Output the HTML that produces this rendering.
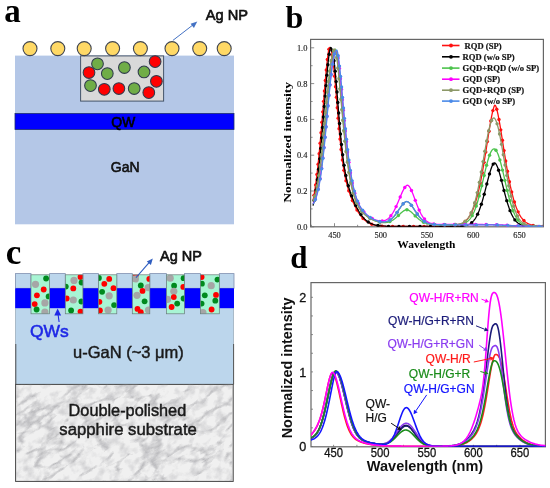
<!DOCTYPE html>
<html><head><meta charset="utf-8"><title>Figure</title>
<style>html,body{margin:0;padding:0;background:#fff;}svg{display:block;}</style></head>
<body>
<svg width="550" height="488" viewBox="0 0 550 488">
<rect width="550" height="488" fill="#fff"/>
<text x="4.3" y="21.5" font-family="'Liberation Serif', serif" font-weight="bold" font-size="33">a</text>
<rect x="15" y="55.6" width="219" height="168.7" fill="#B4C7E7"/>
<rect x="80.6" y="55.9" width="83" height="45.2" fill="#D9D9D9" stroke="#44546A" stroke-width="1"/>
<rect x="15" y="113.5" width="219" height="16" fill="#0000FF" stroke="#1F2F6F" stroke-width="0.8"/>
<circle cx="30" cy="48.6" r="7.0" fill="#FFD966" stroke="#404550" stroke-width="1.1"/>
<circle cx="57.8" cy="48.6" r="7.0" fill="#FFD966" stroke="#404550" stroke-width="1.1"/>
<circle cx="84.2" cy="48.6" r="7.0" fill="#FFD966" stroke="#404550" stroke-width="1.1"/>
<circle cx="112.6" cy="48.6" r="7.0" fill="#FFD966" stroke="#404550" stroke-width="1.1"/>
<circle cx="140.4" cy="48.6" r="7.0" fill="#FFD966" stroke="#404550" stroke-width="1.1"/>
<circle cx="172.0" cy="48.6" r="7.0" fill="#FFD966" stroke="#404550" stroke-width="1.1"/>
<circle cx="199.7" cy="48.6" r="7.0" fill="#FFD966" stroke="#404550" stroke-width="1.1"/>
<circle cx="224.2" cy="48.6" r="7.0" fill="#FFD966" stroke="#404550" stroke-width="1.1"/>
<circle cx="97.5" cy="63.8" r="5.85" fill="#70AD47" stroke="#2F3B4C" stroke-width="1.05"/>
<circle cx="89" cy="72.5" r="5.85" fill="#FF0000" stroke="#2F3B4C" stroke-width="1.05"/>
<circle cx="107.3" cy="73.6" r="5.85" fill="#70AD47" stroke="#2F3B4C" stroke-width="1.05"/>
<circle cx="124.4" cy="67.5" r="5.85" fill="#70AD47" stroke="#2F3B4C" stroke-width="1.05"/>
<circle cx="144" cy="71.9" r="5.85" fill="#70AD47" stroke="#2F3B4C" stroke-width="1.05"/>
<circle cx="155.1" cy="61.6" r="5.85" fill="#FF0000" stroke="#2F3B4C" stroke-width="1.05"/>
<circle cx="156.4" cy="81.3" r="5.85" fill="#FF0000" stroke="#2F3B4C" stroke-width="1.05"/>
<circle cx="90.5" cy="85.6" r="5.85" fill="#70AD47" stroke="#2F3B4C" stroke-width="1.05"/>
<circle cx="104.3" cy="89.3" r="5.85" fill="#FF0000" stroke="#2F3B4C" stroke-width="1.05"/>
<circle cx="118.9" cy="88.5" r="5.85" fill="#FF0000" stroke="#2F3B4C" stroke-width="1.05"/>
<circle cx="134.2" cy="88.5" r="5.85" fill="#70AD47" stroke="#2F3B4C" stroke-width="1.05"/>
<circle cx="148.8" cy="92.6" r="5.85" fill="#FF0000" stroke="#2F3B4C" stroke-width="1.05"/>
<line x1="172.9" y1="40.4" x2="194" y2="24.1" stroke="#4472C4" stroke-width="1"/>
<polygon points="197.3,21.5 190.6,23.7 193.9,27.9" fill="#4472C4"/>
<text x="205.8" y="20.2" font-family="'Liberation Sans', sans-serif" font-size="14.9" fill="#111" stroke="#111" stroke-width="0.65" textLength="42.3" lengthAdjust="spacingAndGlyphs">Ag NP</text>
<text x="111.2" y="126.8" font-family="'Liberation Sans', sans-serif" font-size="14" fill="#000" stroke="#000" stroke-width="0.6">QW</text>
<text x="110.8" y="172.2" font-family="'Liberation Sans', sans-serif" font-size="14" fill="#111" stroke="#111" stroke-width="0.6">GaN</text>
<text x="285.6" y="28.4" font-family="'Liberation Serif', serif" font-weight="bold" font-size="32">b</text>
<rect x="310.6" y="39.4" width="232.79999999999995" height="187.4" fill="none" stroke="#666" stroke-width="1.2"/>
<line x1="310.6" y1="226.8" x2="314.2" y2="226.8" stroke="#707070" stroke-width="0.8"/>
<text x="307.4" y="229.7" text-anchor="end" font-family="'Liberation Serif', serif" font-size="8.4" fill="#222" stroke="#222" stroke-width="0.15">0.0</text>
<line x1="310.6" y1="208.9" x2="312.6" y2="208.9" stroke="#707070" stroke-width="0.8"/>
<line x1="310.6" y1="191" x2="314.2" y2="191" stroke="#707070" stroke-width="0.8"/>
<text x="307.4" y="193.9" text-anchor="end" font-family="'Liberation Serif', serif" font-size="8.4" fill="#222" stroke="#222" stroke-width="0.15">0.2</text>
<line x1="310.6" y1="173.1" x2="312.6" y2="173.1" stroke="#707070" stroke-width="0.8"/>
<line x1="310.6" y1="155.2" x2="314.2" y2="155.2" stroke="#707070" stroke-width="0.8"/>
<text x="307.4" y="158.1" text-anchor="end" font-family="'Liberation Serif', serif" font-size="8.4" fill="#222" stroke="#222" stroke-width="0.15">0.4</text>
<line x1="310.6" y1="137.3" x2="312.6" y2="137.3" stroke="#707070" stroke-width="0.8"/>
<line x1="310.6" y1="119.4" x2="314.2" y2="119.4" stroke="#707070" stroke-width="0.8"/>
<text x="307.4" y="122.3" text-anchor="end" font-family="'Liberation Serif', serif" font-size="8.4" fill="#222" stroke="#222" stroke-width="0.15">0.6</text>
<line x1="310.6" y1="101.5" x2="312.6" y2="101.5" stroke="#707070" stroke-width="0.8"/>
<line x1="310.6" y1="83.6" x2="314.2" y2="83.6" stroke="#707070" stroke-width="0.8"/>
<text x="307.4" y="86.5" text-anchor="end" font-family="'Liberation Serif', serif" font-size="8.4" fill="#222" stroke="#222" stroke-width="0.15">0.8</text>
<line x1="310.6" y1="65.7" x2="312.6" y2="65.7" stroke="#707070" stroke-width="0.8"/>
<line x1="310.6" y1="47.8" x2="314.2" y2="47.8" stroke="#707070" stroke-width="0.8"/>
<text x="307.4" y="50.7" text-anchor="end" font-family="'Liberation Serif', serif" font-size="8.4" fill="#222" stroke="#222" stroke-width="0.15">1.0</text>
<line x1="311.38" y1="226.8" x2="311.38" y2="224.8" stroke="#707070" stroke-width="0.8"/>
<line x1="334.5" y1="226.8" x2="334.5" y2="223.2" stroke="#707070" stroke-width="0.8"/>
<text x="334.5" y="237.6" text-anchor="middle" font-family="'Liberation Serif', serif" font-size="8.4" fill="#222" stroke="#222" stroke-width="0.15">450</text>
<line x1="357.62" y1="226.8" x2="357.62" y2="224.8" stroke="#707070" stroke-width="0.8"/>
<line x1="380.75" y1="226.8" x2="380.75" y2="223.2" stroke="#707070" stroke-width="0.8"/>
<text x="380.75" y="237.6" text-anchor="middle" font-family="'Liberation Serif', serif" font-size="8.4" fill="#222" stroke="#222" stroke-width="0.15">500</text>
<line x1="403.88" y1="226.8" x2="403.88" y2="224.8" stroke="#707070" stroke-width="0.8"/>
<line x1="427" y1="226.8" x2="427" y2="223.2" stroke="#707070" stroke-width="0.8"/>
<text x="427" y="237.6" text-anchor="middle" font-family="'Liberation Serif', serif" font-size="8.4" fill="#222" stroke="#222" stroke-width="0.15">550</text>
<line x1="450.12" y1="226.8" x2="450.12" y2="224.8" stroke="#707070" stroke-width="0.8"/>
<line x1="473.25" y1="226.8" x2="473.25" y2="223.2" stroke="#707070" stroke-width="0.8"/>
<text x="473.25" y="237.6" text-anchor="middle" font-family="'Liberation Serif', serif" font-size="8.4" fill="#222" stroke="#222" stroke-width="0.15">600</text>
<line x1="496.38" y1="226.8" x2="496.38" y2="224.8" stroke="#707070" stroke-width="0.8"/>
<line x1="519.5" y1="226.8" x2="519.5" y2="223.2" stroke="#707070" stroke-width="0.8"/>
<text x="519.5" y="237.6" text-anchor="middle" font-family="'Liberation Serif', serif" font-size="8.4" fill="#222" stroke="#222" stroke-width="0.15">650</text>
<line x1="542.62" y1="226.8" x2="542.62" y2="224.8" stroke="#707070" stroke-width="0.8"/>
<text transform="translate(426.4,247.6) scale(1,0.9)" text-anchor="middle" font-family="'Liberation Serif', serif" font-weight="bold" font-size="11.5">Wavelength</text>
<text transform="translate(290.8,142.3) rotate(-90) scale(1.18,0.86)" text-anchor="middle" font-family="'Liberation Serif', serif" font-weight="bold" font-size="11.5">Normalized intensity</text>
<clipPath id="cb"><rect x="310.6" y="39.4" width="232.79999999999995" height="187.4"/></clipPath>
<g clip-path="url(#cb)">
<path d="M313.04,200.52 L313.5,198.11 L313.97,195.53 L314.43,192.78 L314.89,189.84 L315.35,186.71 L315.81,183.39 L316.28,179.88 L316.74,176.17 L317.2,172.25 L317.67,168.15 L318.13,163.84 L318.59,159.35 L319.05,154.66 L319.51,149.8 L319.98,144.77 L320.44,139.58 L320.9,134.24 L321.37,128.78 L321.83,123.22 L322.29,117.57 L322.75,111.86 L323.22,106.11 L323.68,100.37 L324.14,94.67 L324.6,89.04 L325.06,83.52 L325.53,78.16 L325.99,73.01 L326.45,68.12 L326.92,63.55 L327.38,59.36 L327.84,55.62 L328.3,52.42 L328.76,49.85 L329.23,48.08 L329.69,47.45 L330.15,47.74 L330.62,48.51 L331.08,49.81 L331.54,51.64 L332,54.01 L332.47,56.89 L332.93,60.26 L333.39,64.1 L333.85,68.35 L334.31,72.98 L334.78,77.92 L335.24,83.12 L335.7,88.53 L336.17,94.09 L336.63,99.73 L337.09,105.4 L337.55,111.05 L338.01,116.63 L338.48,122.1 L338.94,127.42 L339.4,132.55 L339.87,137.47 L340.33,142.16 L340.79,146.61 L341.25,150.81 L341.72,154.75 L342.18,158.45 L342.64,161.9 L343.1,165.11 L343.56,168.09 L344.03,170.87 L344.49,173.45 L344.95,175.85 L345.42,178.08 L345.88,180.17 L346.34,182.12 L346.8,183.96 L347.26,185.68 L347.73,187.32 L348.19,188.88 L348.65,190.36 L349.12,191.78 L349.58,193.14 L350.04,194.45 L350.5,195.71 L350.97,196.94 L351.43,198.12 L351.89,199.28 L352.35,200.39 L352.81,201.48 L353.28,202.54 L353.74,203.57 L354.2,204.57 L354.67,205.54 L355.13,206.48 L355.59,207.39 L356.05,208.28 L356.51,209.14 L356.98,209.97 L357.44,210.78 L357.9,211.56 L358.37,212.31 L358.83,213.03 L359.29,213.73 L359.75,214.4 L360.22,215.05 L360.68,215.67 L361.14,216.26 L361.6,216.83 L362.06,217.38 L362.53,217.9 L362.99,218.4 L363.45,218.88 L363.92,219.33 L364.38,219.76 L364.84,220.17 L365.3,220.56 L365.76,220.93 L366.23,221.29 L366.69,221.62 L367.15,221.94 L367.62,222.23 L368.08,222.52 L368.54,222.78 L369,223.03 L369.47,223.27 L369.93,223.49 L370.39,223.7 L370.85,223.9 L371.31,224.08 L371.78,224.26 L372.24,224.42 L372.7,224.57 L373.17,224.71 L373.63,224.84 L374.09,224.97 L374.55,225.08 L375.01,225.19 L375.48,225.29 L375.94,225.38 L376.4,225.47 L376.87,225.55 L377.33,225.62 L377.79,225.69 L378.25,225.75 L378.72,225.81 L379.18,225.86 L379.64,225.91 L380.1,225.96 L380.56,226 L381.03,226.04 L381.49,226.08 L381.95,226.11 L382.42,226.14 L382.88,226.17 L383.34,226.19 L383.8,226.22 L384.26,226.24 L384.73,226.26 L385.19,226.27 L385.65,226.29 L386.12,226.31 L386.58,226.32 L387.04,226.33 L387.5,226.34 L387.97,226.35 L388.43,226.36 L388.89,226.37 L389.35,226.38 L389.81,226.38 L390.28,226.39 L390.74,226.4 L391.2,226.4 L391.67,226.4 L392.13,226.41 L392.59,226.41 L393.05,226.42 L393.51,226.42 L393.98,226.42 L394.44,226.42 L394.9,226.43 L395.36,226.43 L395.83,226.43 L396.29,226.43 L396.75,226.43 L397.21,226.43 L397.68,226.43 L398.14,226.43 L398.6,226.44 L399.06,226.44 L399.53,226.44 L399.99,226.44 L400.45,226.44 L400.91,226.44 L401.38,226.44 L401.84,226.44 L402.3,226.44 L402.76,226.44 L403.23,226.44 L403.69,226.44 L404.15,226.44 L404.61,226.44 L405.08,226.44 L405.54,226.44 L406,226.44 L406.46,226.44 L406.93,226.44 L407.39,226.44 L407.85,226.44 L408.31,226.44 L408.78,226.44 L409.24,226.44 L409.7,226.44 L410.16,226.44 L410.63,226.44 L411.09,226.44 L411.55,226.44 L412.01,226.44 L412.48,226.44 L412.94,226.44 L413.4,226.44 L413.86,226.44 L414.33,226.44 L414.79,226.44 L415.25,226.44 L415.71,226.44 L416.18,226.44 L416.64,226.44 L417.1,226.44 L417.56,226.44 L418.03,226.44 L418.49,226.44 L418.95,226.44 L419.41,226.44 L419.88,226.44 L420.34,226.44 L420.8,226.44 L421.26,226.44 L421.73,226.44 L422.19,226.44 L422.65,226.44 L423.11,226.44 L423.58,226.44 L424.04,226.44 L424.5,226.44 L424.96,226.44 L425.43,226.44 L425.89,226.44 L426.35,226.44 L426.81,226.44 L427.28,226.44 L427.74,226.44 L428.2,226.44 L428.66,226.44 L429.13,226.44 L429.59,226.44 L430.05,226.44 L430.51,226.44 L430.98,226.44 L431.44,226.44 L431.9,226.44 L432.36,226.44 L432.83,226.44 L433.29,226.44 L433.75,226.44 L434.21,226.44 L434.68,226.44 L435.14,226.43 L435.6,226.43 L436.06,226.43 L436.53,226.43 L436.99,226.43 L437.45,226.43 L437.91,226.43 L438.38,226.43 L438.84,226.42 L439.3,226.42 L439.76,226.42 L440.23,226.42 L440.69,226.41 L441.15,226.41 L441.61,226.4 L442.08,226.4 L442.54,226.4 L443,226.39 L443.46,226.38 L443.93,226.38 L444.39,226.37 L444.85,226.36 L445.31,226.35 L445.78,226.34 L446.24,226.33 L446.7,226.32 L447.16,226.3 L447.63,226.29 L448.09,226.27 L448.55,226.25 L449.01,226.23 L449.48,226.21 L449.94,226.19 L450.4,226.16 L450.86,226.13 L451.33,226.1 L451.79,226.06 L452.25,226.02 L452.71,225.98 L453.18,225.93 L453.64,225.88 L454.1,225.82 L454.56,225.76 L455.03,225.69 L455.49,225.62 L455.95,225.54 L456.41,225.45 L456.88,225.36 L457.34,225.25 L457.8,225.14 L458.26,225.02 L458.73,224.88 L459.19,224.74 L459.65,224.58 L460.11,224.41 L460.58,224.23 L461.04,224.03 L461.5,223.82 L461.96,223.59 L462.43,223.34 L462.89,223.07 L463.35,222.78 L463.81,222.47 L464.28,222.14 L464.74,221.78 L465.2,221.39 L465.66,220.98 L466.13,220.54 L466.59,220.07 L467.05,219.56 L467.51,219.02 L467.98,218.44 L468.44,217.83 L468.9,217.17 L469.36,216.47 L469.83,215.73 L470.29,214.95 L470.75,214.11 L471.21,213.22 L471.68,212.28 L472.14,211.29 L472.6,210.24 L473.06,209.14 L473.53,207.97 L473.99,206.74 L474.45,205.44 L474.91,204.08 L475.38,202.66 L475.84,201.16 L476.3,199.59 L476.76,197.95 L477.23,196.24 L477.69,194.46 L478.15,192.59 L478.61,190.66 L479.08,188.65 L479.54,186.56 L480,184.4 L480.46,182.16 L480.93,179.85 L481.39,177.47 L481.85,175.02 L482.31,172.5 L482.78,169.92 L483.24,167.27 L483.7,164.57 L484.16,161.81 L484.63,159.01 L485.09,156.16 L485.55,153.28 L486.01,150.36 L486.48,147.43 L486.94,144.48 L487.4,141.52 L487.86,138.57 L488.33,135.64 L488.79,132.74 L489.25,129.87 L489.71,127.06 L490.18,124.32 L490.64,121.66 L491.1,119.1 L491.56,116.66 L492.03,114.36 L492.49,112.23 L492.95,110.28 L493.41,108.56 L493.88,107.1 L494.34,105.95 L494.8,105.21 L495.26,105.28 L495.73,106.09 L496.19,107.29 L496.65,108.8 L497.11,110.55 L497.58,112.53 L498.04,114.69 L498.5,117.01 L498.96,119.46 L499.43,122.04 L499.89,124.71 L500.35,127.47 L500.81,130.29 L501.28,133.16 L501.74,136.07 L502.2,139 L502.66,141.96 L503.13,144.91 L503.59,147.86 L504.05,150.79 L504.51,153.7 L504.98,156.58 L505.44,159.42 L505.9,162.22 L506.36,164.97 L506.83,167.66 L507.29,170.3 L507.75,172.87 L508.21,175.38 L508.68,177.82 L509.14,180.19 L509.6,182.49 L510.06,184.72 L510.53,186.87 L510.99,188.95 L511.45,190.95 L511.91,192.87 L512.38,194.72 L512.84,196.5 L513.3,198.2 L513.76,199.83 L514.23,201.38 L514.69,202.87 L515.15,204.29 L515.62,205.64 L516.08,206.92 L516.54,208.14 L517,209.3 L517.46,210.4 L517.93,211.44 L518.39,212.43 L518.85,213.36 L519.31,214.23 L519.78,215.06 L520.24,215.84 L520.7,216.58 L521.16,217.27 L521.63,217.92 L522.09,218.53 L522.55,219.1 L523.01,219.64 L523.48,220.14 L523.94,220.61 L524.4,221.04 L524.87,221.45 L525.33,221.83 L525.79,222.19 L526.25,222.52 L526.71,222.83 L527.18,223.11 L527.64,223.38 L528.1,223.62 L528.56,223.85 L529.03,224.06 L529.49,224.26 L529.95,224.44 L530.41,224.61 L530.88,224.76 L531.34,224.9 L531.8,225.04 L532.26,225.16 L532.73,225.27 L533.19,225.37 L533.65,225.46 L534.12,225.55 L534.58,225.63 L535.04,225.7 L535.5,225.77 L535.96,225.83 L536.43,225.89 L536.89,225.94 L537.35,225.98 L537.81,226.03 L538.28,226.07 L538.74,226.1 L539.2,226.13 L539.66,226.16 L540.13,226.19 L540.59,226.21 L541.05,226.24 L541.51,226.26 L541.98,226.27 L542.44,226.29 L542.9,226.31 L543.37,226.32" fill="none" stroke="#FF1010" stroke-width="1.3" stroke-linejoin="round"/>
<g fill="#FF1010"><circle cx="313.99" cy="195.36" r="1.7"/><circle cx="315.59" cy="184.98" r="1.7"/><circle cx="316.93" cy="174.56" r="1.7"/><circle cx="318.1" cy="164.13" r="1.7"/><circle cx="319.15" cy="153.68" r="1.7"/><circle cx="320.11" cy="143.23" r="1.7"/><circle cx="321.03" cy="132.77" r="1.7"/><circle cx="321.9" cy="122.3" r="1.7"/><circle cx="322.75" cy="111.84" r="1.7"/><circle cx="323.6" cy="101.37" r="1.7"/><circle cx="324.45" cy="90.91" r="1.7"/><circle cx="325.33" cy="80.44" r="1.7"/><circle cx="326.28" cy="69.99" r="1.7"/><circle cx="327.36" cy="59.54" r="1.7"/><circle cx="328.94" cy="49.17" r="1.7"/><circle cx="332.23" cy="55.45" r="1.7"/><circle cx="333.58" cy="65.87" r="1.7"/><circle cx="334.63" cy="76.31" r="1.7"/><circle cx="335.55" cy="86.77" r="1.7"/><circle cx="336.42" cy="97.24" r="1.7"/><circle cx="337.28" cy="107.7" r="1.7"/><circle cx="338.14" cy="118.17" r="1.7"/><circle cx="339.05" cy="128.63" r="1.7"/><circle cx="340.02" cy="139.08" r="1.7"/><circle cx="341.11" cy="149.53" r="1.7"/><circle cx="342.38" cy="159.95" r="1.7"/><circle cx="343.94" cy="170.33" r="1.7"/><circle cx="345.99" cy="180.63" r="1.7"/><circle cx="348.78" cy="190.75" r="1.7"/><circle cx="352.43" cy="200.59" r="1.7"/><circle cx="357.01" cy="210.03" r="1.7"/><circle cx="363.12" cy="218.53" r="1.7"/><circle cx="371.8" cy="224.26" r="1.7"/><circle cx="382.1" cy="226.12" r="1.7"/><circle cx="392.6" cy="226.41" r="1.7"/><circle cx="403.1" cy="226.44" r="1.7"/><circle cx="413.6" cy="226.44" r="1.7"/><circle cx="424.1" cy="226.44" r="1.7"/><circle cx="434.6" cy="226.44" r="1.7"/><circle cx="445.1" cy="226.36" r="1.7"/><circle cx="455.56" cy="225.61" r="1.7"/><circle cx="465.08" cy="221.5" r="1.7"/><circle cx="471.27" cy="213.11" r="1.7"/><circle cx="475.15" cy="203.36" r="1.7"/><circle cx="477.99" cy="193.25" r="1.7"/><circle cx="480.29" cy="183.01" r="1.7"/><circle cx="482.28" cy="172.7" r="1.7"/><circle cx="484.07" cy="162.35" r="1.7"/><circle cx="485.76" cy="151.99" r="1.7"/><circle cx="487.39" cy="141.62" r="1.7"/><circle cx="489.03" cy="131.25" r="1.7"/><circle cx="490.78" cy="120.89" r="1.7"/><circle cx="492.88" cy="110.61" r="1.7"/><circle cx="496.77" cy="109.26" r="1.7"/><circle cx="498.97" cy="119.52" r="1.7"/><circle cx="500.75" cy="129.87" r="1.7"/><circle cx="502.4" cy="140.24" r="1.7"/><circle cx="504.02" cy="150.61" r="1.7"/><circle cx="505.7" cy="160.98" r="1.7"/><circle cx="507.47" cy="171.32" r="1.7"/><circle cx="509.43" cy="181.64" r="1.7"/><circle cx="511.68" cy="191.9" r="1.7"/><circle cx="514.43" cy="202.03" r="1.7"/><circle cx="518.12" cy="211.85" r="1.7"/><circle cx="523.89" cy="220.56" r="1.7"/><circle cx="533.07" cy="225.34" r="1.7"/></g>
<path d="M313.04,205.59 L313.5,203.56 L313.97,201.38 L314.43,199.04 L314.89,196.53 L315.35,193.84 L315.81,190.97 L316.28,187.92 L316.74,184.67 L317.2,181.23 L317.67,177.59 L318.13,173.76 L318.59,169.72 L319.05,165.49 L319.51,161.07 L319.98,156.46 L320.44,151.66 L320.9,146.69 L321.37,141.56 L321.83,136.28 L322.29,130.86 L322.75,125.34 L323.22,119.71 L323.68,114.02 L324.14,108.29 L324.6,102.54 L325.06,96.82 L325.53,91.16 L325.99,85.59 L326.45,80.17 L326.92,74.93 L327.38,69.94 L327.84,65.24 L328.3,60.89 L328.76,56.98 L329.23,53.56 L329.69,50.74 L330.15,48.64 L330.62,47.5 L331.08,47.58 L331.54,48.19 L332,49.34 L332.47,51.04 L332.93,53.3 L333.39,56.1 L333.85,59.43 L334.31,63.24 L334.78,67.49 L335.24,72.15 L335.7,77.14 L336.17,82.41 L336.63,87.9 L337.09,93.54 L337.55,99.28 L338.01,105.05 L338.48,110.8 L338.94,116.47 L339.4,122.02 L339.87,127.41 L340.33,132.6 L340.79,137.57 L341.25,142.29 L341.72,146.76 L342.18,150.97 L342.64,154.91 L343.1,158.59 L343.56,162.02 L344.03,165.2 L344.49,168.15 L344.95,170.88 L345.42,173.42 L345.88,175.78 L346.34,177.97 L346.8,180.02 L347.26,181.93 L347.73,183.73 L348.19,185.43 L348.65,187.04 L349.12,188.56 L349.58,190.03 L350.04,191.43 L350.5,192.77 L350.97,194.08 L351.43,195.33 L351.89,196.55 L352.35,197.74 L352.81,198.89 L353.28,200.01 L353.74,201.1 L354.2,202.16 L354.67,203.2 L355.13,204.2 L355.59,205.18 L356.05,206.13 L356.51,207.06 L356.98,207.95 L357.44,208.82 L357.9,209.66 L358.37,210.48 L358.83,211.27 L359.29,212.03 L359.75,212.76 L360.22,213.47 L360.68,214.15 L361.14,214.81 L361.6,215.44 L362.06,216.04 L362.53,216.62 L362.99,217.18 L363.45,217.71 L363.92,218.21 L364.38,218.7 L364.84,219.16 L365.3,219.6 L365.76,220.02 L366.23,220.42 L366.69,220.8 L367.15,221.16 L367.62,221.5 L368.08,221.82 L368.54,222.12 L369,222.41 L369.47,222.68 L369.93,222.94 L370.39,223.18 L370.85,223.41 L371.31,223.62 L371.78,223.83 L372.24,224.01 L372.7,224.19 L373.17,224.36 L373.63,224.51 L374.09,224.66 L374.55,224.79 L375.01,224.92 L375.48,225.04 L375.94,225.15 L376.4,225.25 L376.87,225.35 L377.33,225.43 L377.79,225.52 L378.25,225.59 L378.72,225.66 L379.18,225.73 L379.64,225.79 L380.1,225.84 L380.56,225.9 L381.03,225.94 L381.49,225.99 L381.95,226.03 L382.42,226.06 L382.88,226.1 L383.34,226.13 L383.8,226.16 L384.26,226.18 L384.73,226.21 L385.19,226.23 L385.65,226.25 L386.12,226.27 L386.58,226.29 L387.04,226.3 L387.5,226.31 L387.97,226.33 L388.43,226.34 L388.89,226.35 L389.35,226.36 L389.81,226.37 L390.28,226.37 L390.74,226.38 L391.2,226.39 L391.67,226.39 L392.13,226.4 L392.59,226.4 L393.05,226.41 L393.51,226.41 L393.98,226.41 L394.44,226.42 L394.9,226.42 L395.36,226.42 L395.83,226.42 L396.29,226.43 L396.75,226.43 L397.21,226.43 L397.68,226.43 L398.14,226.43 L398.6,226.43 L399.06,226.43 L399.53,226.44 L399.99,226.44 L400.45,226.44 L400.91,226.44 L401.38,226.44 L401.84,226.44 L402.3,226.44 L402.76,226.44 L403.23,226.44 L403.69,226.44 L404.15,226.44 L404.61,226.44 L405.08,226.44 L405.54,226.44 L406,226.44 L406.46,226.44 L406.93,226.44 L407.39,226.44 L407.85,226.44 L408.31,226.44 L408.78,226.44 L409.24,226.44 L409.7,226.44 L410.16,226.44 L410.63,226.44 L411.09,226.44 L411.55,226.44 L412.01,226.44 L412.48,226.44 L412.94,226.44 L413.4,226.44 L413.86,226.44 L414.33,226.44 L414.79,226.44 L415.25,226.44 L415.71,226.44 L416.18,226.44 L416.64,226.44 L417.1,226.44 L417.56,226.44 L418.03,226.44 L418.49,226.44 L418.95,226.44 L419.41,226.44 L419.88,226.44 L420.34,226.44 L420.8,226.44 L421.26,226.44 L421.73,226.44 L422.19,226.44 L422.65,226.44 L423.11,226.44 L423.58,226.44 L424.04,226.44 L424.5,226.44 L424.96,226.44 L425.43,226.44 L425.89,226.44 L426.35,226.44 L426.81,226.44 L427.28,226.44 L427.74,226.44 L428.2,226.44 L428.66,226.44 L429.13,226.44 L429.59,226.44 L430.05,226.44 L430.51,226.44 L430.98,226.44 L431.44,226.44 L431.9,226.44 L432.36,226.44 L432.83,226.44 L433.29,226.44 L433.75,226.44 L434.21,226.44 L434.68,226.44 L435.14,226.44 L435.6,226.44 L436.06,226.44 L436.53,226.44 L436.99,226.44 L437.45,226.44 L437.91,226.44 L438.38,226.44 L438.84,226.44 L439.3,226.44 L439.76,226.44 L440.23,226.44 L440.69,226.44 L441.15,226.44 L441.61,226.44 L442.08,226.44 L442.54,226.44 L443,226.44 L443.46,226.44 L443.93,226.44 L444.39,226.44 L444.85,226.44 L445.31,226.44 L445.78,226.44 L446.24,226.44 L446.7,226.44 L447.16,226.44 L447.63,226.44 L448.09,226.44 L448.55,226.44 L449.01,226.44 L449.48,226.44 L449.94,226.44 L450.4,226.44 L450.86,226.43 L451.33,226.43 L451.79,226.43 L452.25,226.43 L452.71,226.43 L453.18,226.42 L453.64,226.42 L454.1,226.42 L454.56,226.41 L455.03,226.41 L455.49,226.4 L455.95,226.4 L456.41,226.39 L456.88,226.38 L457.34,226.37 L457.8,226.36 L458.26,226.34 L458.73,226.33 L459.19,226.31 L459.65,226.29 L460.11,226.27 L460.58,226.24 L461.04,226.21 L461.5,226.18 L461.96,226.14 L462.43,226.09 L462.89,226.04 L463.35,225.99 L463.81,225.92 L464.28,225.85 L464.74,225.77 L465.2,225.68 L465.66,225.58 L466.13,225.46 L466.59,225.34 L467.05,225.2 L467.51,225.04 L467.98,224.87 L468.44,224.68 L468.9,224.47 L469.36,224.23 L469.83,223.98 L470.29,223.69 L470.75,223.39 L471.21,223.05 L471.68,222.68 L472.14,222.27 L472.6,221.83 L473.06,221.36 L473.53,220.84 L473.99,220.28 L474.45,219.68 L474.91,219.03 L475.38,218.33 L475.84,217.58 L476.3,216.78 L476.76,215.93 L477.23,215.01 L477.69,214.05 L478.15,213.02 L478.61,211.93 L479.08,210.79 L479.54,209.58 L480,208.31 L480.46,206.99 L480.93,205.6 L481.39,204.16 L481.85,202.66 L482.31,201.11 L482.78,199.5 L483.24,197.85 L483.7,196.16 L484.16,194.42 L484.63,192.66 L485.09,190.86 L485.55,189.05 L486.01,187.22 L486.48,185.38 L486.94,183.54 L487.4,181.72 L487.86,179.91 L488.33,178.14 L488.79,176.4 L489.25,174.71 L489.71,173.09 L490.18,171.54 L490.64,170.07 L491.1,168.7 L491.56,167.44 L492.03,166.3 L492.49,165.3 L492.95,164.45 L493.41,163.76 L493.88,163.25 L494.34,162.95 L494.8,162.93 L495.26,163.2 L495.73,163.69 L496.19,164.35 L496.65,165.19 L497.11,166.17 L497.58,167.29 L498.04,168.54 L498.5,169.9 L498.96,171.35 L499.43,172.89 L499.89,174.51 L500.35,176.19 L500.81,177.92 L501.28,179.69 L501.74,181.49 L502.2,183.32 L502.66,185.15 L503.13,186.99 L503.59,188.82 L504.05,190.64 L504.51,192.44 L504.98,194.21 L505.44,195.94 L505.9,197.64 L506.36,199.3 L506.83,200.91 L507.29,202.47 L507.75,203.97 L508.21,205.42 L508.68,206.82 L509.14,208.15 L509.6,209.43 L510.06,210.64 L510.53,211.79 L510.99,212.89 L511.45,213.92 L511.91,214.9 L512.38,215.81 L512.84,216.68 L513.3,217.49 L513.76,218.24 L514.23,218.94 L514.69,219.6 L515.15,220.21 L515.62,220.77 L516.08,221.3 L516.54,221.78 L517,222.22 L517.46,222.63 L517.93,223 L518.39,223.34 L518.85,223.66 L519.31,223.94 L519.78,224.2 L520.24,224.44 L520.7,224.65 L521.16,224.85 L521.63,225.02 L522.09,225.18 L522.55,225.32 L523.01,225.45 L523.48,225.56 L523.94,225.67 L524.4,225.76 L524.87,225.84 L525.33,225.91 L525.79,225.98 L526.25,226.04 L526.71,226.09 L527.18,226.13 L527.64,226.17 L528.1,226.21 L528.56,226.24 L529.03,226.26 L529.49,226.29 L529.95,226.31 L530.41,226.33 L530.88,226.34 L531.34,226.36 L531.8,226.37 L532.26,226.38 L532.73,226.39 L533.19,226.4 L533.65,226.4 L534.12,226.41 L534.58,226.41 L535.04,226.42 L535.5,226.42 L535.96,226.42 L536.43,226.43 L536.89,226.43 L537.35,226.43 L537.81,226.43 L538.28,226.43 L538.74,226.44 L539.2,226.44 L539.66,226.44 L540.13,226.44 L540.59,226.44 L541.05,226.44 L541.51,226.44 L541.98,226.44 L542.44,226.44 L542.9,226.44 L543.37,226.44" fill="none" stroke="#000000" stroke-width="1.3" stroke-linejoin="round"/>
<g fill="#000000"><circle cx="314.15" cy="200.46" r="1.7"/><circle cx="315.95" cy="190.11" r="1.7"/><circle cx="317.4" cy="179.71" r="1.7"/><circle cx="318.64" cy="169.29" r="1.7"/><circle cx="319.74" cy="158.85" r="1.7"/><circle cx="320.74" cy="148.39" r="1.7"/><circle cx="321.68" cy="137.94" r="1.7"/><circle cx="322.57" cy="127.47" r="1.7"/><circle cx="323.43" cy="117.01" r="1.7"/><circle cx="324.28" cy="106.54" r="1.7"/><circle cx="325.13" cy="96.08" r="1.7"/><circle cx="325.99" cy="85.61" r="1.7"/><circle cx="326.9" cy="75.15" r="1.7"/><circle cx="327.9" cy="64.7" r="1.7"/><circle cx="329.13" cy="54.27" r="1.7"/><circle cx="332.28" cy="50.36" r="1.7"/><circle cx="334.01" cy="60.71" r="1.7"/><circle cx="335.14" cy="71.15" r="1.7"/><circle cx="336.09" cy="81.61" r="1.7"/><circle cx="336.97" cy="92.07" r="1.7"/><circle cx="337.81" cy="102.54" r="1.7"/><circle cx="338.66" cy="113" r="1.7"/><circle cx="339.53" cy="123.47" r="1.7"/><circle cx="340.45" cy="133.93" r="1.7"/><circle cx="341.47" cy="144.38" r="1.7"/><circle cx="342.63" cy="154.81" r="1.7"/><circle cx="344.03" cy="165.22" r="1.7"/><circle cx="345.84" cy="175.56" r="1.7"/><circle cx="348.29" cy="185.77" r="1.7"/><circle cx="351.58" cy="195.74" r="1.7"/><circle cx="355.69" cy="205.39" r="1.7"/><circle cx="360.91" cy="214.49" r="1.7"/><circle cx="368.24" cy="221.93" r="1.7"/><circle cx="378.01" cy="225.55" r="1.7"/><circle cx="388.47" cy="226.34" r="1.7"/><circle cx="398.97" cy="226.43" r="1.7"/><circle cx="409.47" cy="226.44" r="1.7"/><circle cx="419.97" cy="226.44" r="1.7"/><circle cx="430.47" cy="226.44" r="1.7"/><circle cx="440.97" cy="226.44" r="1.7"/><circle cx="451.47" cy="226.43" r="1.7"/><circle cx="461.96" cy="226.14" r="1.7"/><circle cx="471.69" cy="222.67" r="1.7"/><circle cx="477.65" cy="214.13" r="1.7"/><circle cx="481.34" cy="204.31" r="1.7"/><circle cx="484.22" cy="194.21" r="1.7"/><circle cx="486.82" cy="184.04" r="1.7"/><circle cx="489.49" cy="173.88" r="1.7"/><circle cx="493.19" cy="164.09" r="1.7"/><circle cx="498.61" cy="170.24" r="1.7"/><circle cx="501.45" cy="180.35" r="1.7"/><circle cx="504.03" cy="190.53" r="1.7"/><circle cx="506.76" cy="200.67" r="1.7"/><circle cx="510.06" cy="210.63" r="1.7"/><circle cx="514.92" cy="219.9" r="1.7"/><circle cx="523.49" cy="225.57" r="1.7"/><circle cx="533.93" cy="226.41" r="1.7"/></g>
<path d="M313.04,201.45 L313.5,200.41 L313.97,199.26 L314.43,198 L314.89,196.6 L315.35,195.07 L315.81,193.38 L316.28,191.54 L316.74,189.53 L317.2,187.35 L317.67,184.98 L318.13,182.43 L318.59,179.68 L319.05,176.73 L319.51,173.58 L319.98,170.23 L320.44,166.68 L320.9,162.93 L321.37,158.98 L321.83,154.86 L322.29,150.55 L322.75,146.08 L323.22,141.46 L323.68,136.71 L324.14,131.85 L324.6,126.89 L325.06,121.87 L325.53,116.81 L325.99,111.72 L326.45,106.66 L326.92,101.63 L327.38,96.68 L327.84,91.84 L328.3,87.12 L328.76,82.58 L329.23,78.23 L329.69,74.1 L330.15,70.23 L330.62,66.63 L331.08,63.33 L331.54,60.35 L332,57.7 L332.47,55.41 L332.93,53.47 L333.39,51.9 L333.85,50.69 L334.31,49.84 L334.78,49.35 L335.24,49.17 L335.7,49.95 L336.17,51.84 L336.63,54.45 L337.09,57.64 L337.55,61.3 L338.01,65.34 L338.48,69.7 L338.94,74.31 L339.4,79.13 L339.87,84.09 L340.33,89.16 L340.79,94.29 L341.25,99.45 L341.72,104.61 L342.18,109.74 L342.64,114.82 L343.1,119.81 L343.56,124.7 L344.03,129.48 L344.49,134.13 L344.95,138.63 L345.42,142.99 L345.88,147.19 L346.34,151.22 L346.8,155.09 L347.26,158.78 L347.73,162.31 L348.19,165.67 L348.65,168.86 L349.12,171.88 L349.58,174.75 L350.04,177.46 L350.5,180.01 L350.97,182.42 L351.43,184.69 L351.89,186.83 L352.35,188.83 L352.81,190.72 L353.28,192.48 L353.74,194.14 L354.2,195.7 L354.67,197.16 L355.13,198.52 L355.59,199.8 L356.05,201.01 L356.51,202.14 L356.98,203.19 L357.44,204.19 L357.9,205.13 L358.37,206.01 L358.83,206.84 L359.29,207.62 L359.75,208.36 L360.22,209.06 L360.68,209.72 L361.14,210.35 L361.6,210.94 L362.06,211.51 L362.53,212.05 L362.99,212.57 L363.45,213.06 L363.92,213.53 L364.38,213.98 L364.84,214.41 L365.3,214.82 L365.76,215.22 L366.23,215.6 L366.69,215.97 L367.15,216.32 L367.62,216.66 L368.08,216.99 L368.54,217.3 L369,217.61 L369.47,217.9 L369.93,218.18 L370.39,218.46 L370.85,218.72 L371.31,218.98 L371.78,219.22 L372.24,219.46 L372.7,219.68 L373.17,219.9 L373.63,220.11 L374.09,220.32 L374.55,220.51 L375.01,220.69 L375.48,220.87 L375.94,221.04 L376.4,221.2 L376.87,221.36 L377.33,221.5 L377.79,221.64 L378.25,221.77 L378.72,221.89 L379.18,222 L379.64,222.1 L380.1,222.19 L380.56,222.28 L381.03,222.36 L381.49,222.42 L381.95,222.48 L382.42,222.53 L382.88,222.56 L383.34,222.59 L383.8,222.6 L384.26,222.61 L384.73,222.6 L385.19,222.58 L385.65,222.54 L386.12,222.5 L386.58,222.44 L387.04,222.36 L387.5,222.27 L387.97,222.17 L388.43,222.05 L388.89,221.91 L389.35,221.76 L389.81,221.59 L390.28,221.4 L390.74,221.2 L391.2,220.98 L391.67,220.74 L392.13,220.48 L392.59,220.21 L393.05,219.91 L393.51,219.6 L393.98,219.28 L394.44,218.94 L394.9,218.58 L395.36,218.2 L395.83,217.82 L396.29,217.42 L396.75,217.01 L397.21,216.58 L397.68,216.16 L398.14,215.72 L398.6,215.28 L399.06,214.84 L399.53,214.39 L399.99,213.95 L400.45,213.52 L400.91,213.09 L401.38,212.67 L401.84,212.27 L402.3,211.89 L402.76,211.52 L403.23,211.18 L403.69,210.87 L404.15,210.58 L404.61,210.33 L405.08,210.12 L405.54,209.95 L406,209.83 L406.46,209.76 L406.93,209.76 L407.39,209.84 L407.85,209.97 L408.31,210.14 L408.78,210.36 L409.24,210.62 L409.7,210.92 L410.16,211.24 L410.63,211.59 L411.09,211.96 L411.55,212.36 L412.01,212.77 L412.48,213.2 L412.94,213.64 L413.4,214.09 L413.86,214.54 L414.33,215 L414.79,215.45 L415.25,215.91 L415.71,216.36 L416.18,216.81 L416.64,217.25 L417.1,217.68 L417.56,218.1 L418.03,218.51 L418.49,218.91 L418.95,219.29 L419.41,219.66 L419.88,220.01 L420.34,220.35 L420.8,220.68 L421.26,220.98 L421.73,221.28 L422.19,221.55 L422.65,221.81 L423.11,222.06 L423.58,222.29 L424.04,222.5 L424.5,222.71 L424.96,222.89 L425.43,223.07 L425.89,223.23 L426.35,223.38 L426.81,223.52 L427.28,223.65 L427.74,223.76 L428.2,223.87 L428.66,223.97 L429.13,224.06 L429.59,224.14 L430.05,224.21 L430.51,224.28 L430.98,224.34 L431.44,224.39 L431.9,224.44 L432.36,224.49 L432.83,224.53 L433.29,224.56 L433.75,224.6 L434.21,224.62 L434.68,224.65 L435.14,224.67 L435.6,224.69 L436.06,224.71 L436.53,224.73 L436.99,224.74 L437.45,224.75 L437.91,224.76 L438.38,224.77 L438.84,224.78 L439.3,224.79 L439.76,224.79 L440.23,224.8 L440.69,224.8 L441.15,224.81 L441.61,224.81 L442.08,224.81 L442.54,224.82 L443,224.82 L443.46,224.82 L443.93,224.82 L444.39,224.82 L444.85,224.82 L445.31,224.82 L445.78,224.82 L446.24,224.82 L446.7,224.82 L447.16,224.82 L447.63,224.82 L448.09,224.82 L448.55,224.82 L449.01,224.82 L449.48,224.82 L449.94,224.82 L450.4,224.81 L450.86,224.81 L451.33,224.81 L451.79,224.8 L452.25,224.8 L452.71,224.79 L453.18,224.78 L453.64,224.78 L454.1,224.77 L454.56,224.75 L455.03,224.74 L455.49,224.73 L455.95,224.71 L456.41,224.69 L456.88,224.66 L457.34,224.64 L457.8,224.6 L458.26,224.57 L458.73,224.53 L459.19,224.48 L459.65,224.43 L460.11,224.37 L460.58,224.3 L461.04,224.22 L461.5,224.13 L461.96,224.03 L462.43,223.92 L462.89,223.79 L463.35,223.65 L463.81,223.5 L464.28,223.32 L464.74,223.13 L465.2,222.91 L465.66,222.67 L466.13,222.41 L466.59,222.12 L467.05,221.8 L467.51,221.45 L467.98,221.06 L468.44,220.64 L468.9,220.18 L469.36,219.68 L469.83,219.14 L470.29,218.56 L470.75,217.92 L471.21,217.24 L471.68,216.5 L472.14,215.71 L472.6,214.86 L473.06,213.96 L473.53,212.99 L473.99,211.97 L474.45,210.88 L474.91,209.73 L475.38,208.51 L475.84,207.23 L476.3,205.89 L476.76,204.48 L477.23,203.01 L477.69,201.48 L478.15,199.88 L478.61,198.23 L479.08,196.53 L479.54,194.77 L480,192.96 L480.46,191.11 L480.93,189.22 L481.39,187.29 L481.85,185.33 L482.31,183.35 L482.78,181.36 L483.24,179.35 L483.7,177.35 L484.16,175.34 L484.63,173.36 L485.09,171.39 L485.55,169.45 L486.01,167.56 L486.48,165.71 L486.94,163.91 L487.4,162.18 L487.86,160.53 L488.33,158.95 L488.79,157.47 L489.25,156.08 L489.71,154.8 L490.18,153.63 L490.64,152.58 L491.1,151.65 L491.56,150.85 L492.03,150.18 L492.49,149.66 L492.95,149.27 L493.41,149.02 L493.88,148.92 L494.34,148.96 L494.8,149.15 L495.26,149.48 L495.73,149.95 L496.19,150.57 L496.65,151.32 L497.11,152.19 L497.58,153.2 L498.04,154.33 L498.5,155.57 L498.96,156.92 L499.43,158.38 L499.89,159.93 L500.35,161.56 L500.81,163.27 L501.28,165.05 L501.74,166.9 L502.2,168.79 L502.66,170.73 L503.13,172.71 L503.59,174.71 L504.05,176.73 L504.51,178.76 L504.98,180.79 L505.44,182.81 L505.9,184.83 L506.36,186.82 L506.83,188.79 L507.29,190.73 L507.75,192.63 L508.21,194.48 L508.68,196.3 L509.14,198.06 L509.6,199.76 L510.06,201.42 L510.53,203.01 L510.99,204.54 L511.45,206 L511.91,207.41 L512.38,208.75 L512.84,210.02 L513.3,211.23 L513.76,212.38 L514.23,213.46 L514.69,214.48 L515.15,215.44 L515.62,216.34 L516.08,217.18 L516.54,217.97 L517,218.71 L517.46,219.39 L517.93,220.02 L518.39,220.61 L518.85,221.15 L519.31,221.64 L519.78,222.1 L520.24,222.52 L520.7,222.91 L521.16,223.26 L521.63,223.58 L522.09,223.87 L522.55,224.14 L523.01,224.38 L523.48,224.6 L523.94,224.8 L524.4,224.97 L524.87,225.13 L525.33,225.28 L525.79,225.41 L526.25,225.52 L526.71,225.63 L527.18,225.72 L527.64,225.8 L528.1,225.87 L528.56,225.94 L529.03,225.99 L529.49,226.05 L529.95,226.09 L530.41,226.13 L530.88,226.17 L531.34,226.2 L531.8,226.22 L532.26,226.25 L532.73,226.27 L533.19,226.29 L533.65,226.31 L534.12,226.32 L534.58,226.33 L535.04,226.34 L535.5,226.35 L535.96,226.36 L536.43,226.37 L536.89,226.38 L537.35,226.38 L537.81,226.39 L538.28,226.39 L538.74,226.4 L539.2,226.4 L539.66,226.4 L540.13,226.41 L540.59,226.41 L541.05,226.41 L541.51,226.42 L541.98,226.42 L542.44,226.42 L542.9,226.42 L543.37,226.42" fill="none" stroke="#4CC34C" stroke-width="1.3" stroke-linejoin="round"/>
<g fill="#4CC34C"><circle cx="314.91" cy="196.54" r="1.7"/><circle cx="317.4" cy="186.35" r="1.7"/><circle cx="319.16" cy="176" r="1.7"/><circle cx="320.57" cy="165.6" r="1.7"/><circle cx="321.79" cy="155.17" r="1.7"/><circle cx="322.89" cy="144.72" r="1.7"/><circle cx="323.91" cy="134.27" r="1.7"/><circle cx="324.89" cy="123.82" r="1.7"/><circle cx="325.84" cy="113.36" r="1.7"/><circle cx="326.8" cy="102.91" r="1.7"/><circle cx="327.78" cy="92.45" r="1.7"/><circle cx="328.83" cy="82" r="1.7"/><circle cx="329.99" cy="71.57" r="1.7"/><circle cx="331.41" cy="61.17" r="1.7"/><circle cx="333.75" cy="50.95" r="1.7"/><circle cx="337" cy="57" r="1.7"/><circle cx="338.24" cy="67.43" r="1.7"/><circle cx="339.28" cy="77.88" r="1.7"/><circle cx="340.25" cy="88.33" r="1.7"/><circle cx="341.19" cy="98.79" r="1.7"/><circle cx="342.13" cy="109.25" r="1.7"/><circle cx="343.09" cy="119.7" r="1.7"/><circle cx="344.09" cy="130.16" r="1.7"/><circle cx="345.16" cy="140.6" r="1.7"/><circle cx="346.32" cy="151.04" r="1.7"/><circle cx="347.62" cy="161.46" r="1.7"/><circle cx="349.11" cy="171.85" r="1.7"/><circle cx="350.92" cy="182.19" r="1.7"/><circle cx="353.26" cy="192.42" r="1.7"/><circle cx="356.62" cy="202.37" r="1.7"/><circle cx="361.95" cy="211.37" r="1.7"/><circle cx="369.89" cy="218.16" r="1.7"/><circle cx="379.58" cy="222.09" r="1.7"/><circle cx="389.91" cy="221.55" r="1.7"/><circle cx="398.39" cy="215.48" r="1.7"/><circle cx="406.91" cy="209.76" r="1.7"/><circle cx="415.23" cy="215.89" r="1.7"/><circle cx="423.52" cy="222.26" r="1.7"/><circle cx="433.69" cy="224.59" r="1.7"/><circle cx="444.18" cy="224.82" r="1.7"/><circle cx="454.68" cy="224.75" r="1.7"/><circle cx="464.96" cy="223.02" r="1.7"/><circle cx="472.18" cy="215.64" r="1.7"/><circle cx="476.27" cy="205.99" r="1.7"/><circle cx="479.24" cy="195.92" r="1.7"/><circle cx="481.76" cy="185.72" r="1.7"/><circle cx="484.13" cy="175.5" r="1.7"/><circle cx="486.59" cy="165.29" r="1.7"/><circle cx="489.56" cy="155.22" r="1.7"/><circle cx="495.95" cy="150.25" r="1.7"/><circle cx="499.89" cy="159.94" r="1.7"/><circle cx="502.51" cy="170.1" r="1.7"/><circle cx="504.87" cy="180.33" r="1.7"/><circle cx="507.25" cy="190.56" r="1.7"/><circle cx="509.87" cy="200.73" r="1.7"/><circle cx="513.1" cy="210.71" r="1.7"/><circle cx="517.92" cy="220.01" r="1.7"/><circle cx="526.53" cy="225.58" r="1.7"/><circle cx="536.98" cy="226.38" r="1.7"/></g>
<path d="M313.04,203.73 L313.5,202.95 L313.97,202.08 L314.43,201.11 L314.89,200.04 L315.35,198.86 L315.81,197.56 L316.28,196.12 L316.74,194.54 L317.2,192.81 L317.67,190.93 L318.13,188.87 L318.59,186.64 L319.05,184.22 L319.51,181.62 L319.98,178.82 L320.44,175.83 L320.9,172.63 L321.37,169.24 L321.83,165.65 L322.29,161.86 L322.75,157.88 L323.22,153.73 L323.68,149.41 L324.14,144.93 L324.6,140.3 L325.06,135.56 L325.53,130.71 L325.99,125.78 L326.45,120.8 L326.92,115.78 L327.38,110.76 L327.84,105.76 L328.3,100.82 L328.76,95.96 L329.23,91.22 L329.69,86.63 L330.15,82.21 L330.62,77.99 L331.08,74.01 L331.54,70.28 L332,66.84 L332.47,63.71 L332.93,60.89 L333.39,58.41 L333.85,56.28 L334.31,54.51 L334.78,53.11 L335.24,52.06 L335.7,51.36 L336.17,51 L336.63,51.05 L337.09,52.35 L337.55,54.53 L338.01,57.35 L338.48,60.7 L338.94,64.48 L339.4,68.6 L339.87,73.01 L340.33,77.65 L340.79,82.47 L341.25,87.41 L341.72,92.45 L342.18,97.53 L342.64,102.63 L343.1,107.72 L343.56,112.76 L344.03,117.74 L344.49,122.63 L344.95,127.41 L345.42,132.08 L345.88,136.61 L346.34,141 L346.8,145.23 L347.26,149.31 L347.73,153.22 L348.19,156.97 L348.65,160.55 L349.12,163.96 L349.58,167.21 L350.04,170.29 L350.5,173.21 L350.97,175.97 L351.43,178.58 L351.89,181.04 L352.35,183.36 L352.81,185.54 L353.28,187.59 L353.74,189.52 L354.2,191.33 L354.67,193.03 L355.13,194.63 L355.59,196.12 L356.05,197.52 L356.51,198.84 L356.98,200.07 L357.44,201.23 L357.9,202.32 L358.37,203.34 L358.83,204.3 L359.29,205.2 L359.75,206.06 L360.22,206.86 L360.68,207.62 L361.14,208.33 L361.6,209.01 L362.06,209.65 L362.53,210.26 L362.99,210.84 L363.45,211.39 L363.92,211.92 L364.38,212.42 L364.84,212.9 L365.3,213.36 L365.76,213.8 L366.23,214.22 L366.69,214.62 L367.15,215.01 L367.62,215.38 L368.08,215.74 L368.54,216.08 L369,216.41 L369.47,216.73 L369.93,217.04 L370.39,217.33 L370.85,217.62 L371.31,217.89 L371.78,218.15 L372.24,218.4 L372.7,218.64 L373.17,218.87 L373.63,219.09 L374.09,219.3 L374.55,219.49 L375.01,219.68 L375.48,219.86 L375.94,220.02 L376.4,220.18 L376.87,220.32 L377.33,220.45 L377.79,220.57 L378.25,220.68 L378.72,220.77 L379.18,220.85 L379.64,220.92 L380.1,220.97 L380.56,221 L381.03,221.02 L381.49,221.02 L381.95,221.01 L382.42,220.97 L382.88,220.92 L383.34,220.84 L383.8,220.75 L384.26,220.63 L384.73,220.48 L385.19,220.31 L385.65,220.12 L386.12,219.9 L386.58,219.64 L387.04,219.36 L387.5,219.05 L387.97,218.7 L388.43,218.32 L388.89,217.91 L389.35,217.46 L389.81,216.98 L390.28,216.45 L390.74,215.89 L391.2,215.29 L391.67,214.65 L392.13,213.97 L392.59,213.25 L393.05,212.5 L393.51,211.7 L393.98,210.87 L394.44,209.99 L394.9,209.09 L395.36,208.15 L395.83,207.17 L396.29,206.17 L396.75,205.14 L397.21,204.08 L397.68,203 L398.14,201.91 L398.6,200.81 L399.06,199.69 L399.53,198.57 L399.99,197.46 L400.45,196.35 L400.91,195.25 L401.38,194.17 L401.84,193.12 L402.3,192.1 L402.76,191.13 L403.23,190.19 L403.69,189.32 L404.15,188.5 L404.61,187.75 L405.08,187.08 L405.54,186.5 L406,186.01 L406.46,185.63 L406.93,185.36 L407.39,185.23 L407.85,185.29 L408.31,185.55 L408.78,185.96 L409.24,186.49 L409.7,187.15 L410.16,187.9 L410.63,188.75 L411.09,189.69 L411.55,190.69 L412.01,191.76 L412.48,192.88 L412.94,194.05 L413.4,195.25 L413.86,196.47 L414.33,197.72 L414.79,198.97 L415.25,200.22 L415.71,201.47 L416.18,202.71 L416.64,203.93 L417.1,205.13 L417.56,206.3 L418.03,207.44 L418.49,208.54 L418.95,209.61 L419.41,210.64 L419.88,211.63 L420.34,212.57 L420.8,213.47 L421.26,214.32 L421.73,215.13 L422.19,215.89 L422.65,216.6 L423.11,217.28 L423.58,217.91 L424.04,218.49 L424.5,219.04 L424.96,219.54 L425.43,220.01 L425.89,220.45 L426.35,220.84 L426.81,221.21 L427.28,221.54 L427.74,221.85 L428.2,222.13 L428.66,222.38 L429.13,222.61 L429.59,222.82 L430.05,223.01 L430.51,223.18 L430.98,223.33 L431.44,223.46 L431.9,223.58 L432.36,223.69 L432.83,223.79 L433.29,223.88 L433.75,223.95 L434.21,224.02 L434.68,224.08 L435.14,224.13 L435.6,224.18 L436.06,224.22 L436.53,224.25 L436.99,224.28 L437.45,224.31 L437.91,224.33 L438.38,224.35 L438.84,224.37 L439.3,224.39 L439.76,224.4 L440.23,224.41 L440.69,224.42 L441.15,224.43 L441.61,224.43 L442.08,224.44 L442.54,224.45 L443,224.45 L443.46,224.45 L443.93,224.46 L444.39,224.46 L444.85,224.46 L445.31,224.46 L445.78,224.47 L446.24,224.47 L446.7,224.47 L447.16,224.47 L447.63,224.47 L448.09,224.47 L448.55,224.47 L449.01,224.47 L449.48,224.47 L449.94,224.47 L450.4,224.47 L450.86,224.47 L451.33,224.47 L451.79,224.47 L452.25,224.47 L452.71,224.47 L453.18,224.47 L453.64,224.47 L454.1,224.47 L454.56,224.47 L455.03,224.47 L455.49,224.47 L455.95,224.47 L456.41,224.47 L456.88,224.47 L457.34,224.47 L457.8,224.47 L458.26,224.47 L458.73,224.47 L459.19,224.47 L459.65,224.48 L460.11,224.48 L460.58,224.48 L461.04,224.48 L461.5,224.48 L461.96,224.48 L462.43,224.48 L462.89,224.48 L463.35,224.48 L463.81,224.48 L464.28,224.48 L464.74,224.48 L465.2,224.48 L465.66,224.48 L466.13,224.48 L466.59,224.48 L467.05,224.48 L467.51,224.48 L467.98,224.48 L468.44,224.48 L468.9,224.48 L469.36,224.48 L469.83,224.48 L470.29,224.48 L470.75,224.48 L471.21,224.48 L471.68,224.48 L472.14,224.48 L472.6,224.49 L473.06,224.49 L473.53,224.49 L473.99,224.49 L474.45,224.49 L474.91,224.49 L475.38,224.49 L475.84,224.49 L476.3,224.49 L476.76,224.49 L477.23,224.5 L477.69,224.5 L478.15,224.5 L478.61,224.5 L479.08,224.5 L479.54,224.5 L480,224.51 L480.46,224.51 L480.93,224.51 L481.39,224.51 L481.85,224.51 L482.31,224.52 L482.78,224.52 L483.24,224.52 L483.7,224.53 L484.16,224.53 L484.63,224.53 L485.09,224.54 L485.55,224.54 L486.01,224.54 L486.48,224.55 L486.94,224.55 L487.4,224.56 L487.86,224.56 L488.33,224.57 L488.79,224.58 L489.25,224.58 L489.71,224.59 L490.18,224.6 L490.64,224.6 L491.1,224.61 L491.56,224.62 L492.03,224.63 L492.49,224.64 L492.95,224.65 L493.41,224.66 L493.88,224.67 L494.34,224.68 L494.8,224.69 L495.26,224.7 L495.73,224.72 L496.19,224.73 L496.65,224.74 L497.11,224.76 L497.58,224.77 L498.04,224.79 L498.5,224.81 L498.96,224.82 L499.43,224.84 L499.89,224.86 L500.35,224.88 L500.81,224.9 L501.28,224.92 L501.74,224.95 L502.2,224.97 L502.66,224.99 L503.13,225.02 L503.59,225.04 L504.05,225.07 L504.51,225.09 L504.98,225.12 L505.44,225.15 L505.9,225.18 L506.36,225.2 L506.83,225.23 L507.29,225.26 L507.75,225.29 L508.21,225.32 L508.68,225.35 L509.14,225.38 L509.6,225.41 L510.06,225.45 L510.53,225.48 L510.99,225.51 L511.45,225.54 L511.91,225.57 L512.38,225.6 L512.84,225.63 L513.3,225.66 L513.76,225.69 L514.23,225.72 L514.69,225.74 L515.15,225.77 L515.62,225.8 L516.08,225.83 L516.54,225.85 L517,225.88 L517.46,225.9 L517.93,225.93 L518.39,225.95 L518.85,225.97 L519.31,225.99 L519.78,226.02 L520.24,226.04 L520.7,226.06 L521.16,226.08 L521.63,226.09 L522.09,226.11 L522.55,226.13 L523.01,226.14 L523.48,226.16 L523.94,226.17 L524.4,226.19 L524.87,226.2 L525.33,226.21 L525.79,226.23 L526.25,226.24 L526.71,226.25 L527.18,226.26 L527.64,226.27 L528.1,226.28 L528.56,226.29 L529.03,226.3 L529.49,226.31 L529.95,226.31 L530.41,226.32 L530.88,226.33 L531.34,226.33 L531.8,226.34 L532.26,226.35 L532.73,226.35 L533.19,226.36 L533.65,226.36 L534.12,226.37 L534.58,226.37 L535.04,226.38 L535.5,226.38 L535.96,226.38 L536.43,226.39 L536.89,226.39 L537.35,226.39 L537.81,226.4 L538.28,226.4 L538.74,226.4 L539.2,226.4 L539.66,226.41 L540.13,226.41 L540.59,226.41 L541.05,226.41 L541.51,226.41 L541.98,226.42 L542.44,226.42 L542.9,226.42 L543.37,226.42" fill="none" stroke="#FF00FF" stroke-width="1.3" stroke-linejoin="round"/>
<g fill="#FF00FF"><circle cx="315.3" cy="199" r="1.7"/><circle cx="318.12" cy="188.9" r="1.7"/><circle cx="320.02" cy="178.57" r="1.7"/><circle cx="321.5" cy="168.18" r="1.7"/><circle cx="322.77" cy="157.75" r="1.7"/><circle cx="323.89" cy="147.32" r="1.7"/><circle cx="324.94" cy="136.87" r="1.7"/><circle cx="325.93" cy="126.41" r="1.7"/><circle cx="326.9" cy="115.96" r="1.7"/><circle cx="327.86" cy="105.5" r="1.7"/><circle cx="328.85" cy="95.05" r="1.7"/><circle cx="329.9" cy="84.6" r="1.7"/><circle cx="331.06" cy="74.17" r="1.7"/><circle cx="332.46" cy="63.76" r="1.7"/><circle cx="334.65" cy="53.5" r="1.7"/><circle cx="338.09" cy="57.92" r="1.7"/><circle cx="339.37" cy="68.34" r="1.7"/><circle cx="340.44" cy="78.79" r="1.7"/><circle cx="341.42" cy="89.24" r="1.7"/><circle cx="342.37" cy="99.7" r="1.7"/><circle cx="343.33" cy="110.15" r="1.7"/><circle cx="344.3" cy="120.61" r="1.7"/><circle cx="345.31" cy="131.06" r="1.7"/><circle cx="346.4" cy="141.5" r="1.7"/><circle cx="347.58" cy="151.94" r="1.7"/><circle cx="348.9" cy="162.35" r="1.7"/><circle cx="350.43" cy="172.74" r="1.7"/><circle cx="352.3" cy="183.07" r="1.7"/><circle cx="354.74" cy="193.28" r="1.7"/><circle cx="358.28" cy="203.16" r="1.7"/><circle cx="363.94" cy="211.95" r="1.7"/><circle cx="372.19" cy="218.37" r="1.7"/><circle cx="382.21" cy="220.99" r="1.7"/><circle cx="390.9" cy="215.69" r="1.7"/><circle cx="396.1" cy="206.59" r="1.7"/><circle cx="400.21" cy="196.93" r="1.7"/><circle cx="404.79" cy="187.5" r="1.7"/><circle cx="411.48" cy="190.54" r="1.7"/><circle cx="415.29" cy="200.33" r="1.7"/><circle cx="419.16" cy="210.08" r="1.7"/><circle cx="424.53" cy="219.07" r="1.7"/><circle cx="433.57" cy="223.92" r="1.7"/><circle cx="444.05" cy="224.46" r="1.7"/><circle cx="454.55" cy="224.47" r="1.7"/><circle cx="465.05" cy="224.48" r="1.7"/><circle cx="475.55" cy="224.49" r="1.7"/><circle cx="486.05" cy="224.55" r="1.7"/><circle cx="496.55" cy="224.74" r="1.7"/><circle cx="507.04" cy="225.25" r="1.7"/><circle cx="517.52" cy="225.91" r="1.7"/><circle cx="528.01" cy="226.28" r="1.7"/><circle cx="538.51" cy="226.4" r="1.7"/></g>
<path d="M313.04,200.79 L313.5,199.68 L313.97,198.46 L314.43,197.11 L314.89,195.62 L315.35,193.99 L315.81,192.21 L316.28,190.26 L316.74,188.14 L317.2,185.84 L317.67,183.35 L318.13,180.67 L318.59,177.79 L319.05,174.71 L319.51,171.43 L319.98,167.95 L320.44,164.27 L320.9,160.39 L321.37,156.33 L321.83,152.08 L322.29,147.67 L322.75,143.1 L323.22,138.4 L323.68,133.57 L324.14,128.64 L324.6,123.64 L325.06,118.59 L325.53,113.51 L325.99,108.44 L326.45,103.39 L326.92,98.41 L327.38,93.53 L327.84,88.76 L328.3,84.16 L328.76,79.73 L329.23,75.52 L329.69,71.56 L330.15,67.86 L330.62,64.45 L331.08,61.36 L331.54,58.59 L332,56.17 L332.47,54.11 L332.93,52.41 L333.39,51.08 L333.85,50.1 L334.31,49.49 L334.78,49.2 L335.24,49.51 L335.7,51.08 L336.17,53.47 L336.63,56.47 L337.09,59.97 L337.55,63.89 L338.01,68.14 L338.48,72.67 L338.94,77.42 L339.4,82.34 L339.87,87.37 L340.33,92.49 L340.79,97.65 L341.25,102.81 L341.72,107.96 L342.18,113.05 L342.64,118.07 L343.1,123.01 L343.56,127.83 L344.03,132.52 L344.49,137.08 L344.95,141.49 L345.42,145.74 L345.88,149.84 L346.34,153.76 L346.8,157.52 L347.26,161.11 L347.73,164.53 L348.19,167.77 L348.65,170.86 L349.12,173.78 L349.58,176.54 L350.04,179.15 L350.5,181.61 L350.97,183.93 L351.43,186.11 L351.89,188.16 L352.35,190.09 L352.81,191.9 L353.28,193.59 L353.74,195.18 L354.2,196.67 L354.67,198.07 L355.13,199.38 L355.59,200.61 L356.05,201.77 L356.51,202.85 L356.98,203.87 L357.44,204.82 L357.9,205.72 L358.37,206.57 L358.83,207.37 L359.29,208.12 L359.75,208.83 L360.22,209.51 L360.68,210.15 L361.14,210.75 L361.6,211.33 L362.06,211.88 L362.53,212.4 L362.99,212.9 L363.45,213.37 L363.92,213.83 L364.38,214.27 L364.84,214.68 L365.3,215.09 L365.76,215.47 L366.23,215.84 L366.69,216.2 L367.15,216.54 L367.62,216.88 L368.08,217.2 L368.54,217.5 L369,217.8 L369.47,218.09 L369.93,218.36 L370.39,218.63 L370.85,218.88 L371.31,219.13 L371.78,219.37 L372.24,219.6 L372.7,219.82 L373.17,220.03 L373.63,220.23 L374.09,220.42 L374.55,220.61 L375.01,220.78 L375.48,220.95 L375.94,221.11 L376.4,221.26 L376.87,221.4 L377.33,221.54 L377.79,221.66 L378.25,221.77 L378.72,221.88 L379.18,221.97 L379.64,222.05 L380.1,222.13 L380.56,222.19 L381.03,222.24 L381.49,222.28 L381.95,222.31 L382.42,222.32 L382.88,222.32 L383.34,222.31 L383.8,222.28 L384.26,222.24 L384.73,222.18 L385.19,222.1 L385.65,222 L386.12,221.89 L386.58,221.76 L387.04,221.61 L387.5,221.43 L387.97,221.24 L388.43,221.02 L388.89,220.78 L389.35,220.52 L389.81,220.23 L390.28,219.91 L390.74,219.57 L391.2,219.21 L391.67,218.82 L392.13,218.4 L392.59,217.96 L393.05,217.49 L393.51,216.99 L393.98,216.47 L394.44,215.92 L394.9,215.35 L395.36,214.76 L395.83,214.15 L396.29,213.52 L396.75,212.87 L397.21,212.21 L397.68,211.54 L398.14,210.85 L398.6,210.16 L399.06,209.47 L399.53,208.78 L399.99,208.09 L400.45,207.41 L400.91,206.74 L401.38,206.09 L401.84,205.46 L402.3,204.86 L402.76,204.29 L403.23,203.76 L403.69,203.27 L404.15,202.82 L404.61,202.43 L405.08,202.1 L405.54,201.84 L406,201.64 L406.46,201.53 L406.93,201.53 L407.39,201.65 L407.85,201.85 L408.31,202.12 L408.78,202.46 L409.24,202.86 L409.7,203.31 L410.16,203.81 L410.63,204.35 L411.09,204.93 L411.55,205.54 L412.01,206.18 L412.48,206.84 L412.94,207.52 L413.4,208.21 L413.86,208.91 L414.33,209.62 L414.79,210.33 L415.25,211.03 L415.71,211.73 L416.18,212.42 L416.64,213.1 L417.1,213.77 L417.56,214.42 L418.03,215.05 L418.49,215.67 L418.95,216.26 L419.41,216.83 L419.88,217.38 L420.34,217.9 L420.8,218.4 L421.26,218.88 L421.73,219.33 L422.19,219.76 L422.65,220.16 L423.11,220.54 L423.58,220.9 L424.04,221.23 L424.5,221.54 L424.96,221.83 L425.43,222.1 L425.89,222.35 L426.35,222.59 L426.81,222.8 L427.28,223 L427.74,223.18 L428.2,223.34 L428.66,223.49 L429.13,223.63 L429.59,223.76 L430.05,223.87 L430.51,223.98 L430.98,224.07 L431.44,224.16 L431.9,224.23 L432.36,224.3 L432.83,224.36 L433.29,224.42 L433.75,224.47 L434.21,224.51 L434.68,224.55 L435.14,224.58 L435.6,224.62 L436.06,224.64 L436.53,224.67 L436.99,224.69 L437.45,224.71 L437.91,224.72 L438.38,224.74 L438.84,224.75 L439.3,224.76 L439.76,224.77 L440.23,224.78 L440.69,224.79 L441.15,224.79 L441.61,224.8 L442.08,224.8 L442.54,224.8 L443,224.81 L443.46,224.81 L443.93,224.81 L444.39,224.81 L444.85,224.81 L445.31,224.81 L445.78,224.81 L446.24,224.81 L446.7,224.81 L447.16,224.81 L447.63,224.8 L448.09,224.8 L448.55,224.8 L449.01,224.79 L449.48,224.79 L449.94,224.78 L450.4,224.77 L450.86,224.76 L451.33,224.75 L451.79,224.74 L452.25,224.72 L452.71,224.71 L453.18,224.69 L453.64,224.66 L454.1,224.64 L454.56,224.61 L455.03,224.58 L455.49,224.54 L455.95,224.5 L456.41,224.45 L456.88,224.4 L457.34,224.34 L457.8,224.27 L458.26,224.19 L458.73,224.11 L459.19,224.01 L459.65,223.91 L460.11,223.79 L460.58,223.65 L461.04,223.51 L461.5,223.34 L461.96,223.16 L462.43,222.96 L462.89,222.73 L463.35,222.49 L463.81,222.22 L464.28,221.92 L464.74,221.59 L465.2,221.23 L465.66,220.84 L466.13,220.41 L466.59,219.94 L467.05,219.43 L467.51,218.88 L467.98,218.28 L468.44,217.64 L468.9,216.94 L469.36,216.18 L469.83,215.37 L470.29,214.5 L470.75,213.56 L471.21,212.56 L471.68,211.5 L472.14,210.36 L472.6,209.15 L473.06,207.86 L473.53,206.5 L473.99,205.05 L474.45,203.53 L474.91,201.93 L475.38,200.25 L475.84,198.48 L476.3,196.63 L476.76,194.71 L477.23,192.7 L477.69,190.61 L478.15,188.44 L478.61,186.2 L479.08,183.89 L479.54,181.51 L480,179.06 L480.46,176.56 L480.93,174 L481.39,171.4 L481.85,168.75 L482.31,166.07 L482.78,163.37 L483.24,160.65 L483.7,157.92 L484.16,155.19 L484.63,152.47 L485.09,149.77 L485.55,147.11 L486.01,144.49 L486.48,141.93 L486.94,139.43 L487.4,137.01 L487.86,134.68 L488.33,132.46 L488.79,130.35 L489.25,128.36 L489.71,126.51 L490.18,124.82 L490.64,123.28 L491.1,121.91 L491.56,120.73 L492.03,119.74 L492.49,118.95 L492.95,118.38 L493.41,118.04 L493.88,117.95 L494.34,118.15 L494.8,118.59 L495.26,119.25 L495.73,120.13 L496.19,121.2 L496.65,122.46 L497.11,123.91 L497.58,125.52 L498.04,127.28 L498.5,129.2 L498.96,131.24 L499.43,133.42 L499.89,135.7 L500.35,138.08 L500.81,140.55 L501.28,143.09 L501.74,145.69 L502.2,148.35 L502.66,151.05 L503.13,153.78 L503.59,156.52 L504.05,159.28 L504.51,162.03 L504.98,164.77 L505.44,167.49 L505.9,170.19 L506.36,172.84 L506.83,175.46 L507.29,178.02 L507.75,180.53 L508.21,182.98 L508.68,185.37 L509.14,187.68 L509.6,189.93 L510.06,192.09 L510.53,194.18 L510.99,196.19 L511.45,198.12 L511.91,199.96 L512.38,201.73 L512.84,203.41 L513.3,205.01 L513.76,206.53 L514.23,207.97 L514.69,209.33 L515.15,210.61 L515.62,211.82 L516.08,212.96 L516.54,214.03 L517,215.03 L517.46,215.96 L517.93,216.83 L518.39,217.64 L518.85,218.4 L519.31,219.1 L519.78,219.75 L520.24,220.35 L520.7,220.9 L521.16,221.41 L521.63,221.88 L522.09,222.31 L522.55,222.71 L523.01,223.07 L523.48,223.4 L523.94,223.7 L524.4,223.97 L524.87,224.22 L525.33,224.45 L525.79,224.65 L526.25,224.84 L526.71,225.01 L527.18,225.16 L527.64,225.3 L528.1,225.42 L528.56,225.53 L529.03,225.63 L529.49,225.72 L529.95,225.8 L530.41,225.87 L530.88,225.93 L531.34,225.99 L531.8,226.04 L532.26,226.09 L532.73,226.13 L533.19,226.16 L533.65,226.19 L534.12,226.22 L534.58,226.25 L535.04,226.27 L535.5,226.29 L535.96,226.3 L536.43,226.32 L536.89,226.33 L537.35,226.34 L537.81,226.36 L538.28,226.36 L538.74,226.37 L539.2,226.38 L539.66,226.39 L540.13,226.39 L540.59,226.4 L541.05,226.4 L541.51,226.41 L541.98,226.41 L542.44,226.41 L542.9,226.41 L543.37,226.42" fill="none" stroke="#8C9868" stroke-width="1.3" stroke-linejoin="round"/>
<g fill="#8C9868"><circle cx="314.82" cy="195.85" r="1.7"/><circle cx="317.24" cy="185.64" r="1.7"/><circle cx="318.97" cy="175.28" r="1.7"/><circle cx="320.36" cy="164.88" r="1.7"/><circle cx="321.57" cy="154.45" r="1.7"/><circle cx="322.66" cy="144" r="1.7"/><circle cx="323.68" cy="133.55" r="1.7"/><circle cx="324.65" cy="123.1" r="1.7"/><circle cx="325.61" cy="112.64" r="1.7"/><circle cx="326.56" cy="102.18" r="1.7"/><circle cx="327.55" cy="91.73" r="1.7"/><circle cx="328.6" cy="81.28" r="1.7"/><circle cx="329.78" cy="70.85" r="1.7"/><circle cx="331.23" cy="60.45" r="1.7"/><circle cx="333.76" cy="50.3" r="1.7"/><circle cx="336.8" cy="57.77" r="1.7"/><circle cx="338.02" cy="68.2" r="1.7"/><circle cx="339.06" cy="78.65" r="1.7"/><circle cx="340.02" cy="89.1" r="1.7"/><circle cx="340.96" cy="99.56" r="1.7"/><circle cx="341.9" cy="110.02" r="1.7"/><circle cx="342.86" cy="120.47" r="1.7"/><circle cx="343.87" cy="130.93" r="1.7"/><circle cx="344.94" cy="141.37" r="1.7"/><circle cx="346.11" cy="151.81" r="1.7"/><circle cx="347.42" cy="162.22" r="1.7"/><circle cx="348.93" cy="172.61" r="1.7"/><circle cx="350.77" cy="182.95" r="1.7"/><circle cx="353.16" cy="193.17" r="1.7"/><circle cx="356.62" cy="203.08" r="1.7"/><circle cx="362.14" cy="211.96" r="1.7"/><circle cx="370.25" cy="218.55" r="1.7"/><circle cx="380.06" cy="222.12" r="1.7"/><circle cx="390.09" cy="220.04" r="1.7"/><circle cx="397.13" cy="212.33" r="1.7"/><circle cx="403.21" cy="203.78" r="1.7"/><circle cx="411.41" cy="205.35" r="1.7"/><circle cx="417.3" cy="214.04" r="1.7"/><circle cx="424.53" cy="221.56" r="1.7"/><circle cx="434.49" cy="224.53" r="1.7"/><circle cx="444.98" cy="224.81" r="1.7"/><circle cx="455.47" cy="224.54" r="1.7"/><circle cx="465.24" cy="221.2" r="1.7"/><circle cx="471.18" cy="212.64" r="1.7"/><circle cx="474.68" cy="202.75" r="1.7"/><circle cx="477.25" cy="192.58" r="1.7"/><circle cx="479.39" cy="182.3" r="1.7"/><circle cx="481.29" cy="171.97" r="1.7"/><circle cx="483.07" cy="161.62" r="1.7"/><circle cx="484.83" cy="151.27" r="1.7"/><circle cx="486.66" cy="140.93" r="1.7"/><circle cx="488.73" cy="130.64" r="1.7"/><circle cx="491.64" cy="120.57" r="1.7"/><circle cx="497.09" cy="123.84" r="1.7"/><circle cx="499.55" cy="134.04" r="1.7"/><circle cx="501.5" cy="144.36" r="1.7"/><circle cx="503.28" cy="154.71" r="1.7"/><circle cx="505.03" cy="165.06" r="1.7"/><circle cx="506.82" cy="175.41" r="1.7"/><circle cx="508.75" cy="185.73" r="1.7"/><circle cx="510.95" cy="196" r="1.7"/><circle cx="513.65" cy="206.14" r="1.7"/><circle cx="517.44" cy="215.92" r="1.7"/><circle cx="524.14" cy="223.82" r="1.7"/><circle cx="534.25" cy="226.23" r="1.7"/></g>
<path d="M313.04,204.18 L313.5,203.44 L313.97,202.62 L314.43,201.72 L314.89,200.71 L315.35,199.6 L315.81,198.37 L316.28,197.01 L316.74,195.52 L317.2,193.88 L317.67,192.09 L318.13,190.13 L318.59,188 L319.05,185.69 L319.51,183.2 L319.98,180.51 L320.44,177.63 L320.9,174.55 L321.37,171.26 L321.83,167.78 L322.29,164.1 L322.75,160.22 L323.22,156.16 L323.68,151.92 L324.14,147.52 L324.6,142.96 L325.06,138.26 L325.53,133.45 L325.99,128.55 L326.45,123.57 L326.92,118.54 L327.38,113.49 L327.84,108.44 L328.3,103.43 L328.76,98.49 L329.23,93.64 L329.69,88.92 L330.15,84.36 L330.62,79.98 L331.08,75.82 L331.54,71.91 L332,68.26 L332.47,64.9 L332.93,61.86 L333.39,59.14 L333.85,56.78 L334.31,54.76 L334.78,53.11 L335.24,51.82 L335.7,50.89 L336.17,50.31 L336.63,50.06 L337.09,50.5 L337.55,52.16 L338.01,54.6 L338.48,57.65 L338.94,61.17 L339.4,65.11 L339.87,69.37 L340.33,73.89 L340.79,78.63 L341.25,83.53 L341.72,88.54 L342.18,93.63 L342.64,98.75 L343.1,103.89 L343.56,108.99 L344.03,114.05 L344.49,119.03 L344.95,123.92 L345.42,128.69 L345.88,133.34 L346.34,137.86 L346.8,142.22 L347.26,146.43 L347.73,150.48 L348.19,154.36 L348.65,158.07 L349.12,161.62 L349.58,165 L350.04,168.21 L350.5,171.25 L350.97,174.14 L351.43,176.87 L351.89,179.45 L352.35,181.88 L352.81,184.17 L353.28,186.32 L353.74,188.35 L354.2,190.25 L354.67,192.04 L355.13,193.72 L355.59,195.29 L356.05,196.77 L356.51,198.15 L356.98,199.45 L357.44,200.67 L357.9,201.81 L358.37,202.89 L358.83,203.9 L359.29,204.85 L359.75,205.74 L360.22,206.58 L360.68,207.38 L361.14,208.13 L361.6,208.84 L362.06,209.51 L362.53,210.15 L362.99,210.75 L363.45,211.33 L363.92,211.88 L364.38,212.4 L364.84,212.9 L365.3,213.38 L365.76,213.83 L366.23,214.27 L366.69,214.69 L367.15,215.09 L367.62,215.47 L368.08,215.85 L368.54,216.2 L369,216.55 L369.47,216.88 L369.93,217.2 L370.39,217.5 L370.85,217.8 L371.31,218.08 L371.78,218.36 L372.24,218.62 L372.7,218.88 L373.17,219.12 L373.63,219.35 L374.09,219.58 L374.55,219.79 L375.01,220 L375.48,220.19 L375.94,220.38 L376.4,220.56 L376.87,220.73 L377.33,220.88 L377.79,221.03 L378.25,221.17 L378.72,221.3 L379.18,221.41 L379.64,221.52 L380.1,221.62 L380.56,221.7 L381.03,221.77 L381.49,221.83 L381.95,221.88 L382.42,221.91 L382.88,221.93 L383.34,221.93 L383.8,221.92 L384.26,221.89 L384.73,221.85 L385.19,221.79 L385.65,221.71 L386.12,221.61 L386.58,221.49 L387.04,221.35 L387.5,221.19 L387.97,221.01 L388.43,220.8 L388.89,220.57 L389.35,220.32 L389.81,220.04 L390.28,219.74 L390.74,219.41 L391.2,219.05 L391.67,218.67 L392.13,218.26 L392.59,217.82 L393.05,217.36 L393.51,216.87 L393.98,216.36 L394.44,215.82 L394.9,215.25 L395.36,214.67 L395.83,214.06 L396.29,213.44 L396.75,212.8 L397.21,212.14 L397.68,211.47 L398.14,210.79 L398.6,210.1 L399.06,209.41 L399.53,208.72 L399.99,208.04 L400.45,207.36 L400.91,206.7 L401.38,206.05 L401.84,205.43 L402.3,204.83 L402.76,204.26 L403.23,203.73 L403.69,203.24 L404.15,202.8 L404.61,202.41 L405.08,202.08 L405.54,201.81 L406,201.62 L406.46,201.51 L406.93,201.52 L407.39,201.64 L407.85,201.84 L408.31,202.11 L408.78,202.45 L409.24,202.85 L409.7,203.3 L410.16,203.8 L410.63,204.34 L411.09,204.92 L411.55,205.53 L412.01,206.17 L412.48,206.83 L412.94,207.51 L413.4,208.21 L413.86,208.91 L414.33,209.61 L414.79,210.32 L415.25,211.03 L415.71,211.73 L416.18,212.42 L416.64,213.1 L417.1,213.77 L417.56,214.42 L418.03,215.05 L418.49,215.66 L418.95,216.26 L419.41,216.83 L419.88,217.38 L420.34,217.9 L420.8,218.4 L421.26,218.88 L421.73,219.33 L422.19,219.76 L422.65,220.16 L423.11,220.54 L423.58,220.9 L424.04,221.23 L424.5,221.54 L424.96,221.83 L425.43,222.1 L425.89,222.35 L426.35,222.59 L426.81,222.8 L427.28,223 L427.74,223.18 L428.2,223.34 L428.66,223.49 L429.13,223.63 L429.59,223.76 L430.05,223.87 L430.51,223.98 L430.98,224.07 L431.44,224.16 L431.9,224.23 L432.36,224.3 L432.83,224.36 L433.29,224.42 L433.75,224.47 L434.21,224.51 L434.68,224.55 L435.14,224.58 L435.6,224.62 L436.06,224.64 L436.53,224.67 L436.99,224.69 L437.45,224.71 L437.91,224.72 L438.38,224.74 L438.84,224.75 L439.3,224.76 L439.76,224.77 L440.23,224.78 L440.69,224.79 L441.15,224.79 L441.61,224.8 L442.08,224.8 L442.54,224.81 L443,224.81 L443.46,224.81 L443.93,224.82 L444.39,224.82 L444.85,224.82 L445.31,224.82 L445.78,224.82 L446.24,224.83 L446.7,224.83 L447.16,224.83 L447.63,224.83 L448.09,224.83 L448.55,224.83 L449.01,224.83 L449.48,224.83 L449.94,224.83 L450.4,224.83 L450.86,224.83 L451.33,224.83 L451.79,224.83 L452.25,224.83 L452.71,224.83 L453.18,224.83 L453.64,224.83 L454.1,224.83 L454.56,224.83 L455.03,224.83 L455.49,224.83 L455.95,224.83 L456.41,224.83 L456.88,224.83 L457.34,224.83 L457.8,224.83 L458.26,224.83 L458.73,224.83 L459.19,224.83 L459.65,224.83 L460.11,224.83 L460.58,224.83 L461.04,224.83 L461.5,224.83 L461.96,224.83 L462.43,224.83 L462.89,224.83 L463.35,224.83 L463.81,224.83 L464.28,224.83 L464.74,224.83 L465.2,224.83 L465.66,224.83 L466.13,224.84 L466.59,224.84 L467.05,224.84 L467.51,224.84 L467.98,224.84 L468.44,224.84 L468.9,224.84 L469.36,224.84 L469.83,224.84 L470.29,224.84 L470.75,224.84 L471.21,224.84 L471.68,224.84 L472.14,224.84 L472.6,224.84 L473.06,224.84 L473.53,224.84 L473.99,224.84 L474.45,224.84 L474.91,224.84 L475.38,224.85 L475.84,224.85 L476.3,224.85 L476.76,224.85 L477.23,224.85 L477.69,224.85 L478.15,224.85 L478.61,224.85 L479.08,224.85 L479.54,224.86 L480,224.86 L480.46,224.86 L480.93,224.86 L481.39,224.86 L481.85,224.86 L482.31,224.87 L482.78,224.87 L483.24,224.87 L483.7,224.87 L484.16,224.88 L484.63,224.88 L485.09,224.88 L485.55,224.89 L486.01,224.89 L486.48,224.89 L486.94,224.9 L487.4,224.9 L487.86,224.91 L488.33,224.91 L488.79,224.92 L489.25,224.92 L489.71,224.93 L490.18,224.93 L490.64,224.94 L491.1,224.94 L491.56,224.95 L492.03,224.96 L492.49,224.96 L492.95,224.97 L493.41,224.98 L493.88,224.99 L494.34,225 L494.8,225.01 L495.26,225.02 L495.73,225.03 L496.19,225.04 L496.65,225.05 L497.11,225.06 L497.58,225.08 L498.04,225.09 L498.5,225.1 L498.96,225.12 L499.43,225.13 L499.89,225.15 L500.35,225.17 L500.81,225.18 L501.28,225.2 L501.74,225.22 L502.2,225.24 L502.66,225.26 L503.13,225.28 L503.59,225.3 L504.05,225.32 L504.51,225.34 L504.98,225.36 L505.44,225.38 L505.9,225.41 L506.36,225.43 L506.83,225.45 L507.29,225.48 L507.75,225.5 L508.21,225.53 L508.68,225.55 L509.14,225.58 L509.6,225.6 L510.06,225.63 L510.53,225.65 L510.99,225.68 L511.45,225.7 L511.91,225.73 L512.38,225.75 L512.84,225.78 L513.3,225.8 L513.76,225.82 L514.23,225.85 L514.69,225.87 L515.15,225.89 L515.62,225.92 L516.08,225.94 L516.54,225.96 L517,225.98 L517.46,226 L517.93,226.02 L518.39,226.04 L518.85,226.06 L519.31,226.08 L519.78,226.09 L520.24,226.11 L520.7,226.13 L521.16,226.14 L521.63,226.16 L522.09,226.17 L522.55,226.19 L523.01,226.2 L523.48,226.21 L523.94,226.22 L524.4,226.23 L524.87,226.25 L525.33,226.26 L525.79,226.27 L526.25,226.28 L526.71,226.28 L527.18,226.29 L527.64,226.3 L528.1,226.31 L528.56,226.32 L529.03,226.32 L529.49,226.33 L529.95,226.34 L530.41,226.34 L530.88,226.35 L531.34,226.35 L531.8,226.36 L532.26,226.36 L532.73,226.37 L533.19,226.37 L533.65,226.38 L534.12,226.38 L534.58,226.38 L535.04,226.39 L535.5,226.39 L535.96,226.39 L536.43,226.4 L536.89,226.4 L537.35,226.4 L537.81,226.4 L538.28,226.41 L538.74,226.41 L539.2,226.41 L539.66,226.41 L540.13,226.41 L540.59,226.42 L541.05,226.42 L541.51,226.42 L541.98,226.42 L542.44,226.42 L542.9,226.42 L543.37,226.42" fill="none" stroke="#4A8AE8" stroke-width="1.3" stroke-linejoin="round"/>
<g fill="#4A8AE8"><circle cx="315.39" cy="199.5" r="1.7"/><circle cx="318.28" cy="189.41" r="1.7"/><circle cx="320.21" cy="179.09" r="1.7"/><circle cx="321.71" cy="168.7" r="1.7"/><circle cx="322.97" cy="158.28" r="1.7"/><circle cx="324.11" cy="147.84" r="1.7"/><circle cx="325.15" cy="137.39" r="1.7"/><circle cx="326.14" cy="126.94" r="1.7"/><circle cx="327.1" cy="116.48" r="1.7"/><circle cx="328.06" cy="106.03" r="1.7"/><circle cx="329.04" cy="95.57" r="1.7"/><circle cx="330.08" cy="85.12" r="1.7"/><circle cx="331.21" cy="74.68" r="1.7"/><circle cx="332.56" cy="64.27" r="1.7"/><circle cx="334.54" cy="53.97" r="1.7"/><circle cx="338.18" cy="55.68" r="1.7"/><circle cx="339.51" cy="66.1" r="1.7"/><circle cx="340.59" cy="76.54" r="1.7"/><circle cx="341.57" cy="86.99" r="1.7"/><circle cx="342.52" cy="97.45" r="1.7"/><circle cx="343.47" cy="107.91" r="1.7"/><circle cx="344.43" cy="118.36" r="1.7"/><circle cx="345.43" cy="128.82" r="1.7"/><circle cx="346.49" cy="139.26" r="1.7"/><circle cx="347.64" cy="149.7" r="1.7"/><circle cx="348.92" cy="160.12" r="1.7"/><circle cx="350.39" cy="170.52" r="1.7"/><circle cx="352.16" cy="180.87" r="1.7"/><circle cx="354.43" cy="191.12" r="1.7"/><circle cx="357.62" cy="201.11" r="1.7"/><circle cx="362.64" cy="210.3" r="1.7"/><circle cx="370.28" cy="217.43" r="1.7"/><circle cx="379.86" cy="221.57" r="1.7"/><circle cx="389.95" cy="219.95" r="1.7"/><circle cx="397.08" cy="212.33" r="1.7"/><circle cx="403.17" cy="203.79" r="1.7"/><circle cx="411.38" cy="205.3" r="1.7"/><circle cx="417.26" cy="213.99" r="1.7"/><circle cx="424.48" cy="221.53" r="1.7"/><circle cx="434.43" cy="224.53" r="1.7"/><circle cx="444.92" cy="224.82" r="1.7"/><circle cx="455.42" cy="224.83" r="1.7"/><circle cx="465.92" cy="224.84" r="1.7"/><circle cx="476.42" cy="224.85" r="1.7"/><circle cx="486.92" cy="224.9" r="1.7"/><circle cx="497.42" cy="225.07" r="1.7"/><circle cx="507.91" cy="225.51" r="1.7"/><circle cx="518.4" cy="226.04" r="1.7"/><circle cx="528.89" cy="226.32" r="1.7"/><circle cx="539.39" cy="226.41" r="1.7"/></g>
</g>
<line x1="442" y1="45.5" x2="459.5" y2="45.5" stroke="#FF1010" stroke-width="1.6"/>
<circle cx="451" cy="45.5" r="1.9" fill="#FF1010"/>
<text x="464.6" y="48.6" font-family="'Liberation Serif', serif" font-weight="bold" font-size="8.6" fill="#111" stroke="#111" stroke-width="0.2">RQD (SP)</text>
<line x1="442" y1="56.8" x2="459.5" y2="56.8" stroke="#000000" stroke-width="1.6"/>
<circle cx="451" cy="56.8" r="1.9" fill="#000000"/>
<text x="462.6" y="59.9" font-family="'Liberation Serif', serif" font-weight="bold" font-size="8.6" fill="#111" stroke="#111" stroke-width="0.2">RQD (w/o SP)</text>
<line x1="442" y1="68.1" x2="459.5" y2="68.1" stroke="#4CC34C" stroke-width="1.6"/>
<circle cx="451" cy="68.1" r="1.9" fill="#4CC34C"/>
<text x="462.6" y="71.2" font-family="'Liberation Serif', serif" font-weight="bold" font-size="8.6" fill="#111" stroke="#111" stroke-width="0.2">GQD+RQD (w/o SP)</text>
<line x1="442" y1="79.2" x2="459.5" y2="79.2" stroke="#FF00FF" stroke-width="1.6"/>
<circle cx="451" cy="79.2" r="1.9" fill="#FF00FF"/>
<text x="462.6" y="82.3" font-family="'Liberation Serif', serif" font-weight="bold" font-size="8.6" fill="#111" stroke="#111" stroke-width="0.2">GQD (SP)</text>
<line x1="442" y1="90.2" x2="459.5" y2="90.2" stroke="#8C9868" stroke-width="1.6"/>
<circle cx="451" cy="90.2" r="1.9" fill="#8C9868"/>
<text x="462.6" y="93.3" font-family="'Liberation Serif', serif" font-weight="bold" font-size="8.6" fill="#111" stroke="#111" stroke-width="0.2">GQD+RQD (SP)</text>
<line x1="442" y1="101.1" x2="459.5" y2="101.1" stroke="#4A8AE8" stroke-width="1.6"/>
<circle cx="451" cy="101.1" r="1.9" fill="#4A8AE8"/>
<text x="462.6" y="104.2" font-family="'Liberation Serif', serif" font-weight="bold" font-size="8.6" fill="#111" stroke="#111" stroke-width="0.2">GQD (w/o SP)</text>
<text x="5.8" y="264.3" font-family="'Liberation Serif', serif" font-weight="bold" font-size="35">c</text>
<rect x="15.5" y="288" width="218" height="96.4" fill="#BCD6EC" stroke="#8899AA" stroke-width="0.6"/>
<rect x="15.5" y="288.3" width="218" height="19.8" fill="#0000FF"/>
<rect x="15.4" y="273.6" width="15.6" height="14.7" fill="#BCD6EC" stroke="#7F90B0" stroke-width="0.8"/>
<rect x="15.4" y="288.3" width="15.6" height="19.8" fill="#0000FF"/>
<rect x="49.6" y="273.6" width="15.7" height="14.7" fill="#BCD6EC" stroke="#7F90B0" stroke-width="0.8"/>
<rect x="49.6" y="288.3" width="15.7" height="19.8" fill="#0000FF"/>
<rect x="82.9" y="273.6" width="15.5" height="14.7" fill="#BCD6EC" stroke="#7F90B0" stroke-width="0.8"/>
<rect x="82.9" y="288.3" width="15.5" height="19.8" fill="#0000FF"/>
<rect x="116.8" y="273.6" width="15.5" height="14.7" fill="#BCD6EC" stroke="#7F90B0" stroke-width="0.8"/>
<rect x="116.8" y="288.3" width="15.5" height="19.8" fill="#0000FF"/>
<rect x="149.8" y="273.6" width="16.6" height="14.7" fill="#BCD6EC" stroke="#7F90B0" stroke-width="0.8"/>
<rect x="149.8" y="288.3" width="16.6" height="19.8" fill="#0000FF"/>
<rect x="184.4" y="273.6" width="16" height="14.7" fill="#BCD6EC" stroke="#7F90B0" stroke-width="0.8"/>
<rect x="184.4" y="288.3" width="16" height="19.8" fill="#0000FF"/>
<rect x="219.3" y="273.6" width="14.7" height="14.7" fill="#BCD6EC" stroke="#7F90B0" stroke-width="0.8"/>
<rect x="219.3" y="288.3" width="14.7" height="19.8" fill="#0000FF"/>
<defs>
<clipPath id="tc0"><rect x="31.0" y="274.8" width="18.6" height="39"/></clipPath>
<clipPath id="tc1"><rect x="65.3" y="274.8" width="17.6" height="39"/></clipPath>
<clipPath id="tc2"><rect x="98.4" y="274.8" width="18.4" height="39"/></clipPath>
<clipPath id="tc3"><rect x="132.3" y="274.8" width="17.5" height="39"/></clipPath>
<clipPath id="tc4"><rect x="166.4" y="274.8" width="18" height="39"/></clipPath>
<clipPath id="tc5"><rect x="200.4" y="274.8" width="18.9" height="39"/></clipPath>
</defs>
<rect x="31.0" y="274.8" width="18.6" height="39" fill="#A8F5D4"/>
<g clip-path="url(#tc0)">
<circle cx="46.1" cy="278.5" r="2.9" fill="#008A1E"/>
<circle cx="35.5" cy="284.3" r="3.6" fill="#A6A6A6"/>
<circle cx="43.7" cy="289.5" r="2.9" fill="#FF0000"/>
<circle cx="36.9" cy="295.3" r="2.9" fill="#FF0000"/>
<circle cx="48.6" cy="296.4" r="2.9" fill="#008A1E"/>
<circle cx="44.9" cy="302.9" r="3.6" fill="#A6A6A6"/>
<circle cx="34.7" cy="304.1" r="2.9" fill="#FF0000"/>
<circle cx="36.6" cy="309.5" r="2.9" fill="#008A1E"/>
<circle cx="44.9" cy="312.0" r="3.6" fill="#A6A6A6"/>
</g>
<rect x="31.0" y="274.8" width="18.6" height="39" fill="none" stroke="#6A7A7A" stroke-width="0.7"/>
<rect x="65.3" y="274.8" width="17.6" height="39" fill="#A8F5D4"/>
<g clip-path="url(#tc1)">
<circle cx="74.0" cy="280.4" r="3.6" fill="#A6A6A6"/>
<circle cx="80.5" cy="277.0" r="2.9" fill="#FF0000"/>
<circle cx="81.6" cy="282.5" r="2.9" fill="#008A1E"/>
<circle cx="73.3" cy="288.4" r="2.9" fill="#FF0000"/>
<circle cx="65.8" cy="286.6" r="2.9" fill="#008A1E"/>
<circle cx="66.7" cy="298.5" r="2.9" fill="#FF0000"/>
<circle cx="73.3" cy="300.0" r="3.6" fill="#A6A6A6"/>
<circle cx="81.4" cy="301.5" r="2.9" fill="#008A1E"/>
<circle cx="71.1" cy="310.5" r="2.9" fill="#008A1E"/>
<circle cx="80.5" cy="311.6" r="2.9" fill="#FF0000"/>
</g>
<rect x="65.3" y="274.8" width="17.6" height="39" fill="none" stroke="#6A7A7A" stroke-width="0.7"/>
<rect x="98.4" y="274.8" width="18.4" height="39" fill="#A8F5D4"/>
<g clip-path="url(#tc2)">
<circle cx="109.2" cy="278.9" r="2.9" fill="#FF0000"/>
<circle cx="104.3" cy="283.8" r="2.9" fill="#FF0000"/>
<circle cx="113.5" cy="288.2" r="2.9" fill="#FF0000"/>
<circle cx="102.1" cy="291.8" r="2.9" fill="#008A1E"/>
<circle cx="109.2" cy="295.8" r="3.6" fill="#A6A6A6"/>
<circle cx="99.4" cy="301.8" r="2.9" fill="#FF0000"/>
<circle cx="114.1" cy="305.1" r="2.9" fill="#008A1E"/>
<circle cx="108.1" cy="310.0" r="3.6" fill="#A6A6A6"/>
<circle cx="99.9" cy="310.5" r="2.9" fill="#FF0000"/>
<circle cx="98.9" cy="278.0" r="2.9" fill="#008A1E"/>
</g>
<rect x="98.4" y="274.8" width="18.4" height="39" fill="none" stroke="#6A7A7A" stroke-width="0.7"/>
<rect x="132.3" y="274.8" width="17.5" height="39" fill="#A8F5D4"/>
<g clip-path="url(#tc3)">
<circle cx="135.9" cy="275.1" r="2.9" fill="#FF0000"/>
<circle cx="135.4" cy="278.9" r="3.6" fill="#A6A6A6"/>
<circle cx="149.3" cy="278.9" r="2.9" fill="#FF0000"/>
<circle cx="140.8" cy="285.5" r="2.9" fill="#008A1E"/>
<circle cx="148.2" cy="287.6" r="3.6" fill="#A6A6A6"/>
<circle cx="142.5" cy="290.9" r="2.9" fill="#FF0000"/>
<circle cx="137.0" cy="295.3" r="3.6" fill="#A6A6A6"/>
<circle cx="144.6" cy="301.3" r="2.9" fill="#008A1E"/>
<circle cx="137.5" cy="308.9" r="2.9" fill="#FF0000"/>
<circle cx="140.8" cy="312.2" r="2.9" fill="#FF0000"/>
<circle cx="148.5" cy="310.0" r="3.6" fill="#A6A6A6"/>
</g>
<rect x="132.3" y="274.8" width="17.5" height="39" fill="none" stroke="#6A7A7A" stroke-width="0.7"/>
<rect x="166.4" y="274.8" width="18" height="39" fill="#A8F5D4"/>
<g clip-path="url(#tc4)">
<circle cx="170.2" cy="278.2" r="3.6" fill="#A6A6A6"/>
<circle cx="183.6" cy="278.2" r="2.9" fill="#008A1E"/>
<circle cx="174.1" cy="285.7" r="2.9" fill="#008A1E"/>
<circle cx="183.3" cy="286.9" r="2.9" fill="#FF0000"/>
<circle cx="173.8" cy="291.3" r="3.6" fill="#A6A6A6"/>
<circle cx="173.8" cy="297.1" r="2.9" fill="#FF0000"/>
<circle cx="167.5" cy="299.3" r="3.6" fill="#A6A6A6"/>
<circle cx="177.2" cy="303.6" r="2.9" fill="#008A1E"/>
<circle cx="171.6" cy="307.0" r="2.9" fill="#FF0000"/>
<circle cx="183.6" cy="298.5" r="2.9" fill="#008A1E"/>
</g>
<rect x="166.4" y="274.8" width="18" height="39" fill="none" stroke="#6A7A7A" stroke-width="0.7"/>
<rect x="200.4" y="274.8" width="18.9" height="39" fill="#A8F5D4"/>
<g clip-path="url(#tc5)">
<circle cx="201.6" cy="277.0" r="2.9" fill="#FF0000"/>
<circle cx="201.9" cy="283.7" r="2.9" fill="#008A1E"/>
<circle cx="211.2" cy="285.7" r="3.6" fill="#A6A6A6"/>
<circle cx="217.5" cy="279.6" r="2.9" fill="#008A1E"/>
<circle cx="204.8" cy="295.3" r="2.9" fill="#008A1E"/>
<circle cx="216.0" cy="294.9" r="2.9" fill="#FF0000"/>
<circle cx="215.3" cy="300.7" r="2.9" fill="#008A1E"/>
<circle cx="201.6" cy="303.6" r="2.9" fill="#008A1E"/>
<circle cx="211.6" cy="309.5" r="2.9" fill="#FF0000"/>
<circle cx="202.9" cy="312.6" r="3.6" fill="#A6A6A6"/>
</g>
<rect x="200.4" y="274.8" width="18.9" height="39" fill="none" stroke="#6A7A7A" stroke-width="0.7"/>
<filter id="mv" x="0" y="0" width="1" height="1"><feTurbulence type="turbulence" baseFrequency="0.03 0.065" numOctaves="6" seed="8"/><feColorMatrix type="matrix" values="0 0 0 0 0.42  0 0 0 0 0.42  0 0 0 0 0.44  -3.4 0 0 0 0.97"/></filter>
<filter id="mm" x="0" y="0" width="1" height="1"><feTurbulence type="fractalNoise" baseFrequency="0.1 0.13" numOctaves="5" seed="9"/><feColorMatrix type="matrix" values="0 0 0 0 0.5  0 0 0 0 0.5  0 0 0 0 0.52  2.2 0 0 0 -1.0"/></filter>
<path d="M15.8,344 V384.4 M233.6,344 V384.4" stroke="#555" stroke-width="1" fill="none"/>
<clipPath id="subclip"><rect x="16" y="384.8" width="216.8" height="96.2"/></clipPath>
<rect x="15.6" y="384.4" width="217.6" height="97" fill="#F0F0F0" stroke="#444" stroke-width="1"/>
<g clip-path="url(#subclip)"><g transform="rotate(-32 124 433)"><rect x="-30" y="313" width="310" height="240" fill="#fff" filter="url(#mv)"/><rect x="-30" y="313" width="310" height="240" fill="#fff" filter="url(#mm)" opacity="0.7"/></g></g>
<text x="127.4" y="416.3" text-anchor="middle" font-family="'Liberation Sans', sans-serif" font-size="16.3" fill="#1a1a1a" stroke="#1a1a1a" stroke-width="0.45">Double-polished</text>
<text x="128.1" y="434.5" text-anchor="middle" font-family="'Liberation Sans', sans-serif" font-size="16.3" fill="#1a1a1a" stroke="#1a1a1a" stroke-width="0.45" textLength="137.5" lengthAdjust="spacingAndGlyphs">sapphire substrate</text>
<text x="73" y="357.6" font-family="'Liberation Sans', sans-serif" font-size="16.5" fill="#1a1a1a" stroke="#1a1a1a" stroke-width="0.45">u-GaN (~3 μm)</text>
<text x="29.9" y="336.7" font-family="'Liberation Sans', sans-serif" font-size="17" fill="#1E28E6" stroke="#1E28E6" stroke-width="0.55" textLength="38.8" lengthAdjust="spacingAndGlyphs">QWs</text>
<line x1="59.1" y1="322" x2="58" y2="314" stroke="#1E28E6" stroke-width="1.1"/>
<polygon points="57.6,308.6 54.3,315.6 61.1,315.4" fill="#1E28E6"/>
<line x1="136" y1="277.6" x2="150.4" y2="261.2" stroke="#2F5DC0" stroke-width="1.1"/>
<polygon points="152.8,258.5 146.8,261.5 150.9,265.1" fill="#2F5DC0"/>
<text x="160" y="261.0" font-family="'Liberation Sans', sans-serif" font-size="14" fill="#111" stroke="#111" stroke-width="0.65" textLength="41.8" lengthAdjust="spacingAndGlyphs">Ag NP</text>
<text x="290.3" y="268.3" font-family="'Liberation Serif', serif" font-weight="bold" font-size="31">d</text>
<rect x="311.0" y="282.6" width="234.4" height="164.2" fill="none" stroke="#666" stroke-width="1.2"/>
<line x1="311.0" y1="446.5" x2="313" y2="446.5" stroke="#707070" stroke-width="0.8"/>
<text x="306.3" y="451.4" text-anchor="end" font-family="'Liberation Sans', sans-serif" font-size="12.6" fill="#111" stroke="#111" stroke-width="0.3">0</text>
<line x1="311.0" y1="427.85" x2="313" y2="427.85" stroke="#707070" stroke-width="0.8"/>
<line x1="311.0" y1="409.2" x2="313" y2="409.2" stroke="#707070" stroke-width="0.8"/>
<line x1="311.0" y1="390.55" x2="313" y2="390.55" stroke="#707070" stroke-width="0.8"/>
<line x1="311.0" y1="371.9" x2="313" y2="371.9" stroke="#707070" stroke-width="0.8"/>
<text x="306.3" y="376.8" text-anchor="end" font-family="'Liberation Sans', sans-serif" font-size="12.6" fill="#111" stroke="#111" stroke-width="0.3">1</text>
<line x1="311.0" y1="353.25" x2="313" y2="353.25" stroke="#707070" stroke-width="0.8"/>
<line x1="311.0" y1="334.6" x2="313" y2="334.6" stroke="#707070" stroke-width="0.8"/>
<line x1="311.0" y1="315.95" x2="313" y2="315.95" stroke="#707070" stroke-width="0.8"/>
<line x1="311.0" y1="297.3" x2="313" y2="297.3" stroke="#707070" stroke-width="0.8"/>
<text x="306.3" y="302.2" text-anchor="end" font-family="'Liberation Sans', sans-serif" font-size="12.6" fill="#111" stroke="#111" stroke-width="0.3">2</text>
<line x1="333.6" y1="446.8" x2="333.6" y2="444.8" stroke="#707070" stroke-width="0.8"/>
<text x="333.6" y="456.6" text-anchor="middle" font-family="'Liberation Sans', sans-serif" font-size="12.8" fill="#111" stroke="#111" stroke-width="0.3" textLength="18.8" lengthAdjust="spacingAndGlyphs">450</text>
<line x1="356.9" y1="446.8" x2="356.9" y2="444.8" stroke="#707070" stroke-width="0.8"/>
<line x1="380.2" y1="446.8" x2="380.2" y2="444.8" stroke="#707070" stroke-width="0.8"/>
<text x="380.2" y="456.6" text-anchor="middle" font-family="'Liberation Sans', sans-serif" font-size="12.8" fill="#111" stroke="#111" stroke-width="0.3" textLength="18.8" lengthAdjust="spacingAndGlyphs">500</text>
<line x1="403.5" y1="446.8" x2="403.5" y2="444.8" stroke="#707070" stroke-width="0.8"/>
<line x1="426.8" y1="446.8" x2="426.8" y2="444.8" stroke="#707070" stroke-width="0.8"/>
<text x="426.8" y="456.6" text-anchor="middle" font-family="'Liberation Sans', sans-serif" font-size="12.8" fill="#111" stroke="#111" stroke-width="0.3" textLength="18.8" lengthAdjust="spacingAndGlyphs">550</text>
<line x1="450.1" y1="446.8" x2="450.1" y2="444.8" stroke="#707070" stroke-width="0.8"/>
<line x1="473.4" y1="446.8" x2="473.4" y2="444.8" stroke="#707070" stroke-width="0.8"/>
<text x="473.4" y="456.6" text-anchor="middle" font-family="'Liberation Sans', sans-serif" font-size="12.8" fill="#111" stroke="#111" stroke-width="0.3" textLength="18.8" lengthAdjust="spacingAndGlyphs">600</text>
<line x1="496.7" y1="446.8" x2="496.7" y2="444.8" stroke="#707070" stroke-width="0.8"/>
<line x1="520" y1="446.8" x2="520" y2="444.8" stroke="#707070" stroke-width="0.8"/>
<text x="520" y="456.6" text-anchor="middle" font-family="'Liberation Sans', sans-serif" font-size="12.8" fill="#111" stroke="#111" stroke-width="0.3" textLength="18.8" lengthAdjust="spacingAndGlyphs">650</text>
<line x1="543.3" y1="446.8" x2="543.3" y2="444.8" stroke="#707070" stroke-width="0.8"/>
<text x="425" y="470.8" text-anchor="middle" font-family="'Liberation Sans', sans-serif" font-weight="bold" font-size="14.5" fill="#111">Wavelength (nm)</text>
<text transform="translate(292,367.9) rotate(-90)" text-anchor="middle" font-family="'Liberation Sans', sans-serif" font-weight="bold" font-size="14.4" fill="#111">Normalized intensity</text>
<clipPath id="cd"><rect x="311.0" y="282.6" width="234.4" height="164.2"/></clipPath>
<g clip-path="url(#cd)">
<path d="M309.37,436.66 L309.83,436.2 L310.3,435.73 L310.77,435.25 L311.23,434.74 L311.7,434.21 L312.16,433.67 L312.63,433.1 L313.1,432.51 L313.56,431.89 L314.03,431.24 L314.49,430.56 L314.96,429.84 L315.43,429.09 L315.89,428.29 L316.36,427.45 L316.82,426.56 L317.29,425.62 L317.76,424.62 L318.22,423.55 L318.69,422.42 L319.15,421.21 L319.62,419.93 L320.09,418.57 L320.55,417.12 L321.02,415.59 L321.48,413.97 L321.95,412.26 L322.42,410.46 L322.88,408.58 L323.35,406.62 L323.81,404.58 L324.28,402.47 L324.75,400.31 L325.21,398.09 L325.68,395.85 L326.14,393.59 L326.61,391.33 L327.08,389.09 L327.54,386.89 L328.01,384.77 L328.47,382.74 L328.94,380.82 L329.41,379.06 L329.87,377.47 L330.34,376.08 L330.8,374.92 L331.27,374.01 L331.74,373.39 L332.2,373.11 L332.67,373.18 L333.13,373.52 L333.6,374.09 L334.07,374.87 L334.53,375.84 L335,377 L335.46,378.33 L335.93,379.81 L336.4,381.43 L336.86,383.17 L337.33,385.02 L337.79,386.96 L338.26,388.98 L338.73,391.06 L339.19,393.19 L339.66,395.34 L340.12,397.51 L340.59,399.69 L341.06,401.86 L341.52,404 L341.99,406.12 L342.45,408.2 L342.92,410.22 L343.39,412.19 L343.85,414.1 L344.32,415.94 L344.78,417.71 L345.25,419.41 L345.72,421.02 L346.18,422.56 L346.65,424.02 L347.11,425.4 L347.58,426.7 L348.05,427.92 L348.51,429.07 L348.98,430.14 L349.44,431.14 L349.91,432.07 L350.38,432.94 L350.84,433.75 L351.31,434.5 L351.77,435.19 L352.24,435.83 L352.71,436.43 L353.17,436.98 L353.64,437.48 L354.1,437.95 L354.57,438.39 L355.04,438.79 L355.5,439.16 L355.97,439.51 L356.43,439.83 L356.9,440.13 L357.37,440.41 L357.83,440.67 L358.3,440.91 L358.76,441.14 L359.23,441.36 L359.7,441.56 L360.16,441.76 L360.63,441.94 L361.09,442.11 L361.56,442.28 L362.03,442.44 L362.49,442.59 L362.96,442.73 L363.42,442.87 L363.89,443 L364.36,443.13 L364.82,443.25 L365.29,443.37 L365.75,443.49 L366.22,443.6 L366.69,443.71 L367.15,443.81 L367.62,443.91 L368.08,444.01 L368.55,444.1 L369.02,444.19 L369.48,444.28 L369.95,444.36 L370.41,444.45 L370.88,444.53 L371.35,444.6 L371.81,444.68 L372.28,444.75 L372.74,444.81 L373.21,444.88 L373.68,444.94 L374.14,445 L374.61,445.06 L375.07,445.12 L375.54,445.17 L376.01,445.22 L376.47,445.27 L376.94,445.32 L377.4,445.37 L377.87,445.41 L378.34,445.45 L378.8,445.49 L379.27,445.53 L379.73,445.57 L380.2,445.6 L380.67,445.64 L381.13,445.67 L381.6,445.7 L382.06,445.73 L382.53,445.76 L383,445.78 L383.46,445.81 L383.93,445.83 L384.39,445.85 L384.86,445.87 L385.33,445.89 L385.79,445.91 L386.26,445.93 L386.72,445.95 L387.19,445.96 L387.66,445.98 L388.12,445.99 L388.59,446.01 L389.05,446.02 L389.52,446.03 L389.99,446.04 L390.45,446.05 L390.92,446.06 L391.38,446.07 L391.85,446.08 L392.32,446.09 L392.78,446.1 L393.25,446.1 L393.71,446.11 L394.18,446.12 L394.65,446.12 L395.11,446.13 L395.58,446.13 L396.04,446.14 L396.51,446.14 L396.98,446.15 L397.44,446.15 L397.91,446.16 L398.37,446.16 L398.84,446.16 L399.31,446.17 L399.77,446.17 L400.24,446.17 L400.7,446.17 L401.17,446.18 L401.64,446.18 L402.1,446.18 L402.57,446.18 L403.03,446.18 L403.5,446.18 L403.97,446.19 L404.43,446.19 L404.9,446.19 L405.36,446.19 L405.83,446.19 L406.3,446.19 L406.76,446.19 L407.23,446.19 L407.69,446.19 L408.16,446.19 L408.63,446.2 L409.09,446.2 L409.56,446.2 L410.02,446.2 L410.49,446.2 L410.96,446.2 L411.42,446.2 L411.89,446.2 L412.35,446.2 L412.82,446.2 L413.29,446.2 L413.75,446.2 L414.22,446.2 L414.68,446.2 L415.15,446.2 L415.62,446.2 L416.08,446.2 L416.55,446.2 L417.01,446.2 L417.48,446.2 L417.95,446.2 L418.41,446.2 L418.88,446.2 L419.34,446.2 L419.81,446.2 L420.28,446.2 L420.74,446.2 L421.21,446.2 L421.67,446.2 L422.14,446.2 L422.61,446.2 L423.07,446.2 L423.54,446.2 L424,446.2 L424.47,446.2 L424.94,446.2 L425.4,446.2 L425.87,446.2 L426.33,446.2 L426.8,446.2 L427.27,446.2 L427.73,446.2 L428.2,446.2 L428.66,446.2 L429.13,446.2 L429.6,446.2 L430.06,446.2 L430.53,446.2 L430.99,446.2 L431.46,446.2 L431.93,446.2 L432.39,446.2 L432.86,446.2 L433.32,446.2 L433.79,446.2 L434.26,446.2 L434.72,446.2 L435.19,446.2 L435.65,446.2 L436.12,446.2 L436.59,446.2 L437.05,446.2 L437.52,446.19 L437.98,446.19 L438.45,446.19 L438.92,446.19 L439.38,446.19 L439.85,446.19 L440.31,446.19 L440.78,446.18 L441.25,446.18 L441.71,446.18 L442.18,446.18 L442.64,446.17 L443.11,446.17 L443.58,446.16 L444.04,446.16 L444.51,446.16 L444.97,446.15 L445.44,446.14 L445.91,446.14 L446.37,446.13 L446.84,446.12 L447.3,446.11 L447.77,446.1 L448.24,446.09 L448.7,446.07 L449.17,446.06 L449.63,446.04 L450.1,446.03 L450.57,446.01 L451.03,445.99 L451.5,445.96 L451.96,445.94 L452.43,445.91 L452.9,445.88 L453.36,445.85 L453.83,445.81 L454.29,445.77 L454.76,445.73 L455.23,445.68 L455.69,445.63 L456.16,445.58 L456.62,445.52 L457.09,445.46 L457.56,445.39 L458.02,445.32 L458.49,445.24 L458.95,445.15 L459.42,445.06 L459.89,444.97 L460.35,444.86 L460.82,444.75 L461.28,444.63 L461.75,444.5 L462.22,444.36 L462.68,444.22 L463.15,444.06 L463.61,443.9 L464.08,443.73 L464.55,443.54 L465.01,443.35 L465.48,443.14 L465.94,442.92 L466.41,442.69 L466.88,442.44 L467.34,442.19 L467.81,441.92 L468.27,441.63 L468.74,441.33 L469.21,441.01 L469.67,440.68 L470.14,440.33 L470.6,439.96 L471.07,439.57 L471.54,439.16 L472,438.73 L472.47,438.27 L472.93,437.79 L473.4,437.28 L473.87,436.75 L474.33,436.18 L474.8,435.57 L475.26,434.93 L475.73,434.25 L476.2,433.52 L476.66,432.74 L477.13,431.91 L477.59,431.02 L478.06,430.07 L478.53,429.06 L478.99,427.96 L479.46,426.79 L479.92,425.54 L480.39,424.19 L480.86,422.75 L481.32,421.21 L481.79,419.57 L482.25,417.82 L482.72,415.95 L483.19,413.97 L483.65,411.88 L484.12,409.67 L484.58,407.35 L485.05,404.92 L485.52,402.38 L485.98,399.75 L486.45,397.03 L486.91,394.23 L487.38,391.37 L487.85,388.47 L488.31,385.54 L488.78,382.59 L489.24,379.67 L489.71,376.77 L490.18,373.95 L490.64,371.21 L491.11,368.58 L491.57,366.1 L492.04,363.79 L492.51,361.68 L492.97,359.79 L493.44,358.15 L493.9,356.78 L494.37,355.71 L494.84,354.95 L495.3,354.53 L495.77,354.45 L496.23,354.49 L496.7,354.61 L497.17,354.83 L497.63,355.17 L498.1,355.65 L498.56,356.28 L499.03,357.08 L499.5,358.06 L499.96,359.22 L500.43,360.57 L500.89,362.12 L501.36,363.86 L501.83,365.79 L502.29,367.91 L502.76,370.2 L503.22,372.66 L503.69,375.26 L504.16,377.99 L504.62,380.83 L505.09,383.75 L505.55,386.73 L506.02,389.74 L506.49,392.77 L506.95,395.77 L507.42,398.74 L507.88,401.65 L508.35,404.47 L508.82,407.19 L509.28,409.79 L509.75,412.26 L510.21,414.6 L510.68,416.79 L511.15,418.83 L511.61,420.73 L512.08,422.48 L512.54,424.09 L513.01,425.57 L513.48,426.92 L513.94,428.15 L514.41,429.28 L514.87,430.31 L515.34,431.25 L515.81,432.11 L516.27,432.9 L516.74,433.63 L517.2,434.31 L517.67,434.95 L518.14,435.54 L518.6,436.1 L519.07,436.63 L519.53,437.13 L520,437.6 L520.47,438.05 L520.93,438.49 L521.4,438.9 L521.86,439.3 L522.33,439.68 L522.8,440.04 L523.26,440.39 L523.73,440.72 L524.19,441.04 L524.66,441.35 L525.13,441.64 L525.59,441.92 L526.06,442.18 L526.52,442.43 L526.99,442.67 L527.46,442.9 L527.92,443.12 L528.39,443.32 L528.85,443.51 L529.32,443.7 L529.79,443.87 L530.25,444.03 L530.72,444.19 L531.18,444.33 L531.65,444.47 L532.12,444.6 L532.58,444.72 L533.05,444.83 L533.51,444.93 L533.98,445.03 L534.45,445.12 L534.91,445.21 L535.38,445.29 L535.84,445.36 L536.31,445.43 L536.78,445.49 L537.24,445.55 L537.71,445.61 L538.17,445.66 L538.64,445.71 L539.11,445.75 L539.57,445.79 L540.04,445.83 L540.5,445.86 L540.97,445.89 L541.44,445.92 L541.9,445.95 L542.37,445.97 L542.83,445.99 L543.3,446.01 L543.77,446.03 L544.23,446.05 L544.7,446.06 L545.16,446.08 L545.63,446.09 L546.1,446.1 L546.56,446.11 L547.03,446.12 L547.49,446.13 L547.96,446.14" fill="none" stroke="#FF2020" stroke-width="1.6" stroke-linejoin="round"/>
<path d="M309.37,438.75 L309.83,438.62 L310.3,438.47 L310.77,438.3 L311.23,438.12 L311.7,437.91 L312.16,437.68 L312.63,437.42 L313.1,437.14 L313.56,436.82 L314.03,436.46 L314.49,436.07 L314.96,435.64 L315.43,435.16 L315.89,434.63 L316.36,434.05 L316.82,433.41 L317.29,432.72 L317.76,431.96 L318.22,431.13 L318.69,430.23 L319.15,429.26 L319.62,428.22 L320.09,427.09 L320.55,425.88 L321.02,424.59 L321.48,423.22 L321.95,421.76 L322.42,420.21 L322.88,418.58 L323.35,416.87 L323.81,415.08 L324.28,413.21 L324.75,411.27 L325.21,409.26 L325.68,407.19 L326.14,405.06 L326.61,402.89 L327.08,400.69 L327.54,398.47 L328.01,396.23 L328.47,393.99 L328.94,391.77 L329.41,389.58 L329.87,387.44 L330.34,385.35 L330.8,383.35 L331.27,381.45 L331.74,379.65 L332.2,377.99 L332.67,376.48 L333.13,375.14 L333.6,373.98 L334.07,373.02 L334.53,372.29 L335,371.81 L335.46,371.6 L335.93,371.67 L336.4,371.89 L336.86,372.26 L337.33,372.79 L337.79,373.46 L338.26,374.28 L338.73,375.23 L339.19,376.32 L339.66,377.53 L340.12,378.85 L340.59,380.29 L341.06,381.82 L341.52,383.44 L341.99,385.14 L342.45,386.91 L342.92,388.74 L343.39,390.63 L343.85,392.55 L344.32,394.5 L344.78,396.46 L345.25,398.44 L345.72,400.43 L346.18,402.4 L346.65,404.36 L347.11,406.29 L347.58,408.19 L348.05,410.06 L348.51,411.88 L348.98,413.66 L349.44,415.38 L349.91,417.05 L350.38,418.66 L350.84,420.2 L351.31,421.68 L351.77,423.1 L352.24,424.45 L352.71,425.73 L353.17,426.95 L353.64,428.1 L354.1,429.19 L354.57,430.21 L355.04,431.17 L355.5,432.07 L355.97,432.91 L356.43,433.69 L356.9,434.43 L357.37,435.11 L357.83,435.74 L358.3,436.33 L358.76,436.87 L359.23,437.38 L359.7,437.84 L360.16,438.27 L360.63,438.67 L361.09,439.04 L361.56,439.38 L362.03,439.7 L362.49,439.99 L362.96,440.26 L363.42,440.51 L363.89,440.75 L364.36,440.96 L364.82,441.17 L365.29,441.35 L365.75,441.53 L366.22,441.7 L366.69,441.85 L367.15,442 L367.62,442.14 L368.08,442.27 L368.55,442.4 L369.02,442.52 L369.48,442.63 L369.95,442.74 L370.41,442.85 L370.88,442.95 L371.35,443.04 L371.81,443.14 L372.28,443.23 L372.74,443.31 L373.21,443.4 L373.68,443.47 L374.14,443.55 L374.61,443.62 L375.07,443.69 L375.54,443.76 L376.01,443.82 L376.47,443.88 L376.94,443.94 L377.4,443.99 L377.87,444.03 L378.34,444.07 L378.8,444.11 L379.27,444.14 L379.73,444.16 L380.2,444.18 L380.67,444.19 L381.13,444.18 L381.6,444.17 L382.06,444.15 L382.53,444.12 L383,444.08 L383.46,444.03 L383.93,443.96 L384.39,443.87 L384.86,443.77 L385.33,443.66 L385.79,443.52 L386.26,443.37 L386.72,443.2 L387.19,443 L387.66,442.79 L388.12,442.55 L388.59,442.28 L389.05,441.99 L389.52,441.68 L389.99,441.34 L390.45,440.98 L390.92,440.59 L391.38,440.17 L391.85,439.73 L392.32,439.26 L392.78,438.77 L393.25,438.25 L393.71,437.72 L394.18,437.16 L394.65,436.58 L395.11,435.99 L395.58,435.39 L396.04,434.77 L396.51,434.14 L396.98,433.51 L397.44,432.88 L397.91,432.25 L398.37,431.63 L398.84,431.01 L399.31,430.41 L399.77,429.83 L400.24,429.27 L400.7,428.74 L401.17,428.23 L401.64,427.76 L402.1,427.33 L402.57,426.93 L403.03,426.58 L403.5,426.28 L403.97,426.03 L404.43,425.82 L404.9,425.67 L405.36,425.58 L405.83,425.54 L406.3,425.56 L406.76,425.63 L407.23,425.75 L407.69,425.93 L408.16,426.17 L408.63,426.45 L409.09,426.78 L409.56,427.16 L410.02,427.58 L410.49,428.04 L410.96,428.54 L411.42,429.07 L411.89,429.63 L412.35,430.22 L412.82,430.82 L413.29,431.45 L413.75,432.08 L414.22,432.73 L414.68,433.38 L415.15,434.03 L415.62,434.69 L416.08,435.33 L416.55,435.97 L417.01,436.6 L417.48,437.21 L417.95,437.8 L418.41,438.38 L418.88,438.94 L419.34,439.48 L419.81,439.99 L420.28,440.48 L420.74,440.95 L421.21,441.39 L421.67,441.8 L422.14,442.19 L422.61,442.56 L423.07,442.9 L423.54,443.22 L424,443.51 L424.47,443.79 L424.94,444.04 L425.4,444.27 L425.87,444.48 L426.33,444.67 L426.8,444.84 L427.27,445 L427.73,445.14 L428.2,445.27 L428.66,445.38 L429.13,445.49 L429.6,445.58 L430.06,445.66 L430.53,445.73 L430.99,445.79 L431.46,445.85 L431.93,445.9 L432.39,445.94 L432.86,445.98 L433.32,446.01 L433.79,446.04 L434.26,446.06 L434.72,446.08 L435.19,446.1 L435.65,446.12 L436.12,446.13 L436.59,446.14 L437.05,446.15 L437.52,446.16 L437.98,446.17 L438.45,446.17 L438.92,446.18 L439.38,446.18 L439.85,446.19 L440.31,446.19 L440.78,446.19 L441.25,446.19 L441.71,446.19 L442.18,446.2 L442.64,446.2 L443.11,446.2 L443.58,446.2 L444.04,446.2 L444.51,446.2 L444.97,446.2 L445.44,446.2 L445.91,446.2 L446.37,446.2 L446.84,446.2 L447.3,446.2 L447.77,446.2 L448.24,446.2 L448.7,446.2 L449.17,446.2 L449.63,446.2 L450.1,446.2 L450.57,446.2 L451.03,446.2 L451.5,446.2 L451.96,446.2 L452.43,446.2 L452.9,446.2 L453.36,446.2 L453.83,446.2 L454.29,446.2 L454.76,446.2 L455.23,446.2 L455.69,446.2 L456.16,446.2 L456.62,446.2 L457.09,446.2 L457.56,446.2 L458.02,446.2 L458.49,446.2 L458.95,446.2 L459.42,446.2 L459.89,446.2 L460.35,446.2 L460.82,446.2 L461.28,446.2 L461.75,446.2 L462.22,446.2 L462.68,446.2 L463.15,446.2 L463.61,446.2 L464.08,446.2 L464.55,446.2 L465.01,446.2 L465.48,446.2 L465.94,446.2 L466.41,446.2 L466.88,446.2 L467.34,446.2 L467.81,446.2 L468.27,446.2 L468.74,446.2 L469.21,446.2 L469.67,446.2 L470.14,446.2 L470.6,446.2 L471.07,446.2 L471.54,446.2 L472,446.2 L472.47,446.2 L472.93,446.2 L473.4,446.2 L473.87,446.2 L474.33,446.2 L474.8,446.2 L475.26,446.2 L475.73,446.2 L476.2,446.2 L476.66,446.2 L477.13,446.2 L477.59,446.2 L478.06,446.2 L478.53,446.2 L478.99,446.2 L479.46,446.2 L479.92,446.2 L480.39,446.2 L480.86,446.2 L481.32,446.2 L481.79,446.2 L482.25,446.2 L482.72,446.2 L483.19,446.2 L483.65,446.2 L484.12,446.2 L484.58,446.2 L485.05,446.2 L485.52,446.2 L485.98,446.2 L486.45,446.2 L486.91,446.2 L487.38,446.2 L487.85,446.2 L488.31,446.2 L488.78,446.2 L489.24,446.2 L489.71,446.2 L490.18,446.2 L490.64,446.2 L491.11,446.2 L491.57,446.2 L492.04,446.2 L492.51,446.2 L492.97,446.2 L493.44,446.2 L493.9,446.2 L494.37,446.2 L494.84,446.2 L495.3,446.2 L495.77,446.2 L496.23,446.2 L496.7,446.2 L497.17,446.2 L497.63,446.2 L498.1,446.2 L498.56,446.2 L499.03,446.2 L499.5,446.2 L499.96,446.2 L500.43,446.2 L500.89,446.2 L501.36,446.2 L501.83,446.2 L502.29,446.2 L502.76,446.2 L503.22,446.2 L503.69,446.2 L504.16,446.2 L504.62,446.2 L505.09,446.2 L505.55,446.2 L506.02,446.2 L506.49,446.2 L506.95,446.2 L507.42,446.2 L507.88,446.2 L508.35,446.2 L508.82,446.2 L509.28,446.2 L509.75,446.2 L510.21,446.2 L510.68,446.2 L511.15,446.2 L511.61,446.2 L512.08,446.2 L512.54,446.2 L513.01,446.2 L513.48,446.2 L513.94,446.2 L514.41,446.2 L514.87,446.2 L515.34,446.2 L515.81,446.2 L516.27,446.2 L516.74,446.2 L517.2,446.2 L517.67,446.2 L518.14,446.2 L518.6,446.2 L519.07,446.2 L519.53,446.2 L520,446.2 L520.47,446.2 L520.93,446.2 L521.4,446.2 L521.86,446.2 L522.33,446.2 L522.8,446.2 L523.26,446.2 L523.73,446.2 L524.19,446.2 L524.66,446.2 L525.13,446.2 L525.59,446.2 L526.06,446.2 L526.52,446.2 L526.99,446.2 L527.46,446.2 L527.92,446.2 L528.39,446.2 L528.85,446.2 L529.32,446.2 L529.79,446.2 L530.25,446.2 L530.72,446.2 L531.18,446.2 L531.65,446.2 L532.12,446.2 L532.58,446.2 L533.05,446.2 L533.51,446.2 L533.98,446.2 L534.45,446.2 L534.91,446.2 L535.38,446.2 L535.84,446.2 L536.31,446.2 L536.78,446.2 L537.24,446.2 L537.71,446.2 L538.17,446.2 L538.64,446.2 L539.11,446.2 L539.57,446.2 L540.04,446.2 L540.5,446.2 L540.97,446.2 L541.44,446.2 L541.9,446.2 L542.37,446.2 L542.83,446.2 L543.3,446.2 L543.77,446.2 L544.23,446.2 L544.7,446.2 L545.16,446.2 L545.63,446.2 L546.1,446.2 L546.56,446.2 L547.03,446.2 L547.49,446.2 L547.96,446.2" fill="none" stroke="#000000" stroke-width="1.6" stroke-linejoin="round"/>
<path d="M309.37,438.42 L309.83,438.29 L310.3,438.14 L310.77,437.98 L311.23,437.79 L311.7,437.59 L312.16,437.36 L312.63,437.1 L313.1,436.81 L313.56,436.5 L314.03,436.14 L314.49,435.75 L314.96,435.31 L315.43,434.83 L315.89,434.3 L316.36,433.72 L316.82,433.08 L317.29,432.38 L317.76,431.61 L318.22,430.78 L318.69,429.88 L319.15,428.9 L319.62,427.84 L320.09,426.7 L320.55,425.48 L321.02,424.17 L321.48,422.78 L321.95,421.31 L322.42,419.74 L322.88,418.09 L323.35,416.36 L323.81,414.54 L324.28,412.65 L324.75,410.68 L325.21,408.65 L325.68,406.56 L326.14,404.41 L326.61,402.22 L327.08,400 L327.54,397.76 L328.01,395.51 L328.47,393.27 L328.94,391.04 L329.41,388.85 L329.87,386.71 L330.34,384.64 L330.8,382.66 L331.27,380.78 L331.74,379.02 L332.2,377.4 L332.67,375.94 L333.13,374.66 L333.6,373.57 L334.07,372.7 L334.53,372.06 L335,371.68 L335.46,371.61 L335.93,371.74 L336.4,372.03 L336.86,372.47 L337.33,373.06 L337.79,373.8 L338.26,374.67 L338.73,375.68 L339.19,376.82 L339.66,378.08 L340.12,379.45 L340.59,380.93 L341.06,382.5 L341.52,384.16 L341.99,385.89 L342.45,387.69 L342.92,389.55 L343.39,391.45 L343.85,393.38 L344.32,395.34 L344.78,397.31 L345.25,399.29 L345.72,401.27 L346.18,403.24 L346.65,405.19 L347.11,407.11 L347.58,409 L348.05,410.85 L348.51,412.65 L348.98,414.4 L349.44,416.1 L349.91,417.75 L350.38,419.33 L350.84,420.85 L351.31,422.3 L351.77,423.69 L352.24,425.01 L352.71,426.26 L353.17,427.45 L353.64,428.57 L354.1,429.63 L354.57,430.63 L355.04,431.56 L355.5,432.43 L355.97,433.25 L356.43,434.01 L356.9,434.72 L357.37,435.38 L357.83,436 L358.3,436.57 L358.76,437.09 L359.23,437.58 L359.7,438.03 L360.16,438.45 L360.63,438.84 L361.09,439.19 L361.56,439.52 L362.03,439.83 L362.49,440.11 L362.96,440.37 L363.42,440.62 L363.89,440.84 L364.36,441.05 L364.82,441.25 L365.29,441.43 L365.75,441.6 L366.22,441.77 L366.69,441.92 L367.15,442.06 L367.62,442.2 L368.08,442.33 L368.55,442.45 L369.02,442.57 L369.48,442.68 L369.95,442.79 L370.41,442.89 L370.88,442.99 L371.35,443.09 L371.81,443.18 L372.28,443.27 L372.74,443.35 L373.21,443.43 L373.68,443.51 L374.14,443.59 L374.61,443.66 L375.07,443.73 L375.54,443.8 L376.01,443.86 L376.47,443.92 L376.94,443.98 L377.4,444.03 L377.87,444.08 L378.34,444.12 L378.8,444.16 L379.27,444.19 L379.73,444.22 L380.2,444.24 L380.67,444.25 L381.13,444.25 L381.6,444.25 L382.06,444.24 L382.53,444.21 L383,444.18 L383.46,444.13 L383.93,444.07 L384.39,444 L384.86,443.91 L385.33,443.81 L385.79,443.68 L386.26,443.55 L386.72,443.39 L387.19,443.21 L387.66,443.01 L388.12,442.79 L388.59,442.54 L389.05,442.28 L389.52,441.98 L389.99,441.67 L390.45,441.33 L390.92,440.96 L391.38,440.56 L391.85,440.15 L392.32,439.7 L392.78,439.23 L393.25,438.74 L393.71,438.23 L394.18,437.69 L394.65,437.14 L395.11,436.57 L395.58,435.98 L396.04,435.38 L396.51,434.77 L396.98,434.15 L397.44,433.53 L397.91,432.91 L398.37,432.3 L398.84,431.69 L399.31,431.09 L399.77,430.5 L400.24,429.94 L400.7,429.4 L401.17,428.88 L401.64,428.4 L402.1,427.95 L402.57,427.54 L403.03,427.16 L403.5,426.84 L403.97,426.56 L404.43,426.32 L404.9,426.14 L405.36,426.01 L405.83,425.94 L406.3,425.92 L406.76,425.95 L407.23,426.04 L407.69,426.19 L408.16,426.38 L408.63,426.63 L409.09,426.92 L409.56,427.27 L410.02,427.65 L410.49,428.08 L410.96,428.55 L411.42,429.05 L411.89,429.58 L412.35,430.14 L412.82,430.72 L413.29,431.32 L413.75,431.94 L414.22,432.57 L414.68,433.21 L415.15,433.85 L415.62,434.49 L416.08,435.12 L416.55,435.76 L417.01,436.38 L417.48,436.99 L417.95,437.58 L418.41,438.16 L418.88,438.72 L419.34,439.26 L419.81,439.78 L420.28,440.28 L420.74,440.75 L421.21,441.2 L421.67,441.62 L422.14,442.02 L422.61,442.4 L423.07,442.75 L423.54,443.08 L424,443.38 L424.47,443.66 L424.94,443.92 L425.4,444.16 L425.87,444.38 L426.33,444.58 L426.8,444.76 L427.27,444.92 L427.73,445.07 L428.2,445.21 L428.66,445.33 L429.13,445.43 L429.6,445.53 L430.06,445.62 L430.53,445.69 L430.99,445.76 L431.46,445.82 L431.93,445.87 L432.39,445.91 L432.86,445.95 L433.32,445.99 L433.79,446.02 L434.26,446.04 L434.72,446.07 L435.19,446.08 L435.65,446.1 L436.12,446.11 L436.59,446.12 L437.05,446.13 L437.52,446.14 L437.98,446.14 L438.45,446.15 L438.92,446.15 L439.38,446.15 L439.85,446.15 L440.31,446.15 L440.78,446.15 L441.25,446.14 L441.71,446.14 L442.18,446.13 L442.64,446.13 L443.11,446.12 L443.58,446.11 L444.04,446.1 L444.51,446.09 L444.97,446.08 L445.44,446.06 L445.91,446.05 L446.37,446.03 L446.84,446.01 L447.3,445.99 L447.77,445.97 L448.24,445.94 L448.7,445.91 L449.17,445.88 L449.63,445.85 L450.1,445.81 L450.57,445.77 L451.03,445.73 L451.5,445.68 L451.96,445.63 L452.43,445.57 L452.9,445.51 L453.36,445.44 L453.83,445.37 L454.29,445.3 L454.76,445.21 L455.23,445.12 L455.69,445.02 L456.16,444.92 L456.62,444.81 L457.09,444.68 L457.56,444.55 L458.02,444.42 L458.49,444.27 L458.95,444.11 L459.42,443.94 L459.89,443.76 L460.35,443.57 L460.82,443.36 L461.28,443.14 L461.75,442.91 L462.22,442.67 L462.68,442.41 L463.15,442.14 L463.61,441.85 L464.08,441.55 L464.55,441.23 L465.01,440.89 L465.48,440.53 L465.94,440.16 L466.41,439.77 L466.88,439.36 L467.34,438.93 L467.81,438.48 L468.27,438.01 L468.74,437.51 L469.21,436.99 L469.67,436.45 L470.14,435.88 L470.6,435.28 L471.07,434.65 L471.54,433.98 L472,433.29 L472.47,432.55 L472.93,431.77 L473.4,430.95 L473.87,430.08 L474.33,429.15 L474.8,428.16 L475.26,427.11 L475.73,425.98 L476.2,424.78 L476.66,423.48 L477.13,422.09 L477.59,420.6 L478.06,418.99 L478.53,417.26 L478.99,415.41 L479.46,413.41 L479.92,411.27 L480.39,408.98 L480.86,406.53 L481.32,403.92 L481.79,401.15 L482.25,398.21 L482.72,395.1 L483.19,391.84 L483.65,388.42 L484.12,384.87 L484.58,381.19 L485.05,377.39 L485.52,373.51 L485.98,369.57 L486.45,365.58 L486.91,361.6 L487.38,357.64 L487.85,353.74 L488.31,349.95 L488.78,346.3 L489.24,342.83 L489.71,339.58 L490.18,336.59 L490.64,333.88 L491.11,331.49 L491.57,329.44 L492.04,327.76 L492.51,326.47 L492.97,325.59 L493.44,325.1 L493.9,324.66 L494.37,324.25 L494.84,323.93 L495.3,323.73 L495.77,323.71 L496.23,323.93 L496.7,324.45 L497.17,325.32 L497.63,326.59 L498.1,328.29 L498.56,330.45 L499.03,333.03 L499.5,336.03 L499.96,339.4 L500.43,343.11 L500.89,347.13 L501.36,351.39 L501.83,355.85 L502.29,360.43 L502.76,365.1 L503.22,369.79 L503.69,374.45 L504.16,379.03 L504.62,383.5 L505.09,387.82 L505.55,391.97 L506.02,395.91 L506.49,399.64 L506.95,403.14 L507.42,406.41 L507.88,409.44 L508.35,412.23 L508.82,414.8 L509.28,417.14 L509.75,419.27 L510.21,421.2 L510.68,422.95 L511.15,424.53 L511.61,425.96 L512.08,427.24 L512.54,428.41 L513.01,429.47 L513.48,430.43 L513.94,431.31 L514.41,432.12 L514.87,432.88 L515.34,433.58 L515.81,434.24 L516.27,434.85 L516.74,435.44 L517.2,436 L517.67,436.53 L518.14,437.03 L518.6,437.52 L519.07,437.98 L519.53,438.43 L520,438.85 L520.47,439.26 L520.93,439.66 L521.4,440.03 L521.86,440.39 L522.33,440.74 L522.8,441.06 L523.26,441.38 L523.73,441.68 L524.19,441.96 L524.66,442.23 L525.13,442.49 L525.59,442.73 L526.06,442.96 L526.52,443.18 L526.99,443.39 L527.46,443.58 L527.92,443.77 L528.39,443.94 L528.85,444.1 L529.32,444.25 L529.79,444.4 L530.25,444.53 L530.72,444.66 L531.18,444.78 L531.65,444.89 L532.12,444.99 L532.58,445.09 L533.05,445.18 L533.51,445.26 L533.98,445.34 L534.45,445.41 L534.91,445.47 L535.38,445.54 L535.84,445.59 L536.31,445.65 L536.78,445.69 L537.24,445.74 L537.71,445.78 L538.17,445.82 L538.64,445.85 L539.11,445.89 L539.57,445.91 L540.04,445.94 L540.5,445.97 L540.97,445.99 L541.44,446.01 L541.9,446.03 L542.37,446.04 L542.83,446.06 L543.3,446.07 L543.77,446.09 L544.23,446.1 L544.7,446.11 L545.16,446.12 L545.63,446.13 L546.1,446.14 L546.56,446.14 L547.03,446.15 L547.49,446.15 L547.96,446.16" fill="none" stroke="#1C1C7A" stroke-width="1.6" stroke-linejoin="round"/>
<path d="M309.37,438.42 L309.83,438.29 L310.3,438.14 L310.77,437.98 L311.23,437.79 L311.7,437.59 L312.16,437.36 L312.63,437.1 L313.1,436.81 L313.56,436.5 L314.03,436.14 L314.49,435.75 L314.96,435.31 L315.43,434.83 L315.89,434.3 L316.36,433.72 L316.82,433.08 L317.29,432.38 L317.76,431.61 L318.22,430.78 L318.69,429.88 L319.15,428.9 L319.62,427.84 L320.09,426.7 L320.55,425.48 L321.02,424.17 L321.48,422.78 L321.95,421.31 L322.42,419.74 L322.88,418.09 L323.35,416.36 L323.81,414.54 L324.28,412.65 L324.75,410.68 L325.21,408.65 L325.68,406.56 L326.14,404.41 L326.61,402.22 L327.08,400 L327.54,397.76 L328.01,395.51 L328.47,393.27 L328.94,391.04 L329.41,388.85 L329.87,386.71 L330.34,384.64 L330.8,382.66 L331.27,380.78 L331.74,379.02 L332.2,377.4 L332.67,375.94 L333.13,374.66 L333.6,373.57 L334.07,372.7 L334.53,372.06 L335,371.68 L335.46,371.61 L335.93,371.74 L336.4,372.03 L336.86,372.47 L337.33,373.06 L337.79,373.8 L338.26,374.67 L338.73,375.68 L339.19,376.82 L339.66,378.08 L340.12,379.45 L340.59,380.93 L341.06,382.5 L341.52,384.16 L341.99,385.89 L342.45,387.69 L342.92,389.55 L343.39,391.45 L343.85,393.38 L344.32,395.34 L344.78,397.31 L345.25,399.29 L345.72,401.27 L346.18,403.24 L346.65,405.19 L347.11,407.11 L347.58,409 L348.05,410.85 L348.51,412.65 L348.98,414.4 L349.44,416.1 L349.91,417.75 L350.38,419.33 L350.84,420.85 L351.31,422.3 L351.77,423.69 L352.24,425.01 L352.71,426.26 L353.17,427.45 L353.64,428.57 L354.1,429.63 L354.57,430.63 L355.04,431.56 L355.5,432.43 L355.97,433.25 L356.43,434.01 L356.9,434.72 L357.37,435.38 L357.83,436 L358.3,436.57 L358.76,437.09 L359.23,437.58 L359.7,438.03 L360.16,438.45 L360.63,438.84 L361.09,439.19 L361.56,439.52 L362.03,439.83 L362.49,440.11 L362.96,440.37 L363.42,440.62 L363.89,440.84 L364.36,441.05 L364.82,441.25 L365.29,441.43 L365.75,441.6 L366.22,441.76 L366.69,441.92 L367.15,442.06 L367.62,442.2 L368.08,442.32 L368.55,442.45 L369.02,442.56 L369.48,442.68 L369.95,442.78 L370.41,442.88 L370.88,442.98 L371.35,443.08 L371.81,443.16 L372.28,443.25 L372.74,443.33 L373.21,443.41 L373.68,443.49 L374.14,443.56 L374.61,443.63 L375.07,443.69 L375.54,443.75 L376.01,443.81 L376.47,443.86 L376.94,443.91 L377.4,443.95 L377.87,443.98 L378.34,444.01 L378.8,444.03 L379.27,444.05 L379.73,444.06 L380.2,444.06 L380.67,444.05 L381.13,444.02 L381.6,443.99 L382.06,443.95 L382.53,443.9 L383,443.83 L383.46,443.74 L383.93,443.64 L384.39,443.53 L384.86,443.39 L385.33,443.24 L385.79,443.07 L386.26,442.88 L386.72,442.66 L387.19,442.43 L387.66,442.17 L388.12,441.88 L388.59,441.57 L389.05,441.24 L389.52,440.88 L389.99,440.49 L390.45,440.08 L390.92,439.64 L391.38,439.18 L391.85,438.69 L392.32,438.17 L392.78,437.63 L393.25,437.07 L393.71,436.49 L394.18,435.88 L394.65,435.26 L395.11,434.63 L395.58,433.98 L396.04,433.32 L396.51,432.66 L396.98,431.99 L397.44,431.32 L397.91,430.65 L398.37,429.99 L398.84,429.34 L399.31,428.71 L399.77,428.09 L400.24,427.49 L400.7,426.92 L401.17,426.38 L401.64,425.88 L402.1,425.41 L402.57,424.98 L403.03,424.59 L403.5,424.26 L403.97,423.97 L404.43,423.73 L404.9,423.54 L405.36,423.41 L405.83,423.33 L406.3,423.31 L406.76,423.34 L407.23,423.44 L407.69,423.58 L408.16,423.78 L408.63,424.04 L409.09,424.34 L409.56,424.7 L410.02,425.1 L410.49,425.54 L410.96,426.03 L411.42,426.55 L411.89,427.1 L412.35,427.69 L412.82,428.3 L413.29,428.94 L413.75,429.59 L414.22,430.26 L414.68,430.94 L415.15,431.63 L415.62,432.32 L416.08,433.01 L416.55,433.7 L417.01,434.38 L417.48,435.05 L417.95,435.71 L418.41,436.35 L418.88,436.98 L419.34,437.59 L419.81,438.18 L420.28,438.75 L420.74,439.29 L421.21,439.81 L421.67,440.31 L422.14,440.78 L422.61,441.22 L423.07,441.64 L423.54,442.04 L424,442.41 L424.47,442.76 L424.94,443.08 L425.4,443.38 L425.87,443.65 L426.33,443.91 L426.8,444.14 L427.27,444.36 L427.73,444.55 L428.2,444.73 L428.66,444.9 L429.13,445.04 L429.6,445.18 L430.06,445.3 L430.53,445.41 L430.99,445.5 L431.46,445.59 L431.93,445.67 L432.39,445.73 L432.86,445.79 L433.32,445.85 L433.79,445.89 L434.26,445.93 L434.72,445.97 L435.19,446 L435.65,446.03 L436.12,446.05 L436.59,446.07 L437.05,446.08 L437.52,446.1 L437.98,446.11 L438.45,446.12 L438.92,446.12 L439.38,446.13 L439.85,446.13 L440.31,446.14 L440.78,446.14 L441.25,446.14 L441.71,446.13 L442.18,446.13 L442.64,446.13 L443.11,446.12 L443.58,446.11 L444.04,446.11 L444.51,446.1 L444.97,446.09 L445.44,446.07 L445.91,446.06 L446.37,446.05 L446.84,446.03 L447.3,446.01 L447.77,445.99 L448.24,445.97 L448.7,445.94 L449.17,445.91 L449.63,445.89 L450.1,445.85 L450.57,445.82 L451.03,445.78 L451.5,445.74 L451.96,445.69 L452.43,445.64 L452.9,445.59 L453.36,445.53 L453.83,445.46 L454.29,445.4 L454.76,445.32 L455.23,445.24 L455.69,445.16 L456.16,445.06 L456.62,444.96 L457.09,444.86 L457.56,444.74 L458.02,444.62 L458.49,444.49 L458.95,444.35 L459.42,444.2 L459.89,444.04 L460.35,443.88 L460.82,443.7 L461.28,443.51 L461.75,443.31 L462.22,443.09 L462.68,442.87 L463.15,442.63 L463.61,442.38 L464.08,442.11 L464.55,441.83 L465.01,441.53 L465.48,441.22 L465.94,440.89 L466.41,440.55 L466.88,440.19 L467.34,439.8 L467.81,439.4 L468.27,438.98 L468.74,438.54 L469.21,438.07 L469.67,437.58 L470.14,437.06 L470.6,436.51 L471.07,435.93 L471.54,435.32 L472,434.68 L472.47,433.99 L472.93,433.26 L473.4,432.49 L473.87,431.66 L474.33,430.78 L474.8,429.84 L475.26,428.83 L475.73,427.76 L476.2,426.61 L476.66,425.37 L477.13,424.05 L477.59,422.63 L478.06,421.12 L478.53,419.5 L478.99,417.77 L479.46,415.93 L479.92,413.96 L480.39,411.88 L480.86,409.67 L481.32,407.34 L481.79,404.89 L482.25,402.32 L482.72,399.64 L483.19,396.85 L483.65,393.97 L484.12,390.99 L484.58,387.95 L485.05,384.85 L485.52,381.72 L485.98,378.57 L486.45,375.43 L486.91,372.32 L487.38,369.27 L487.85,366.31 L488.31,363.46 L488.78,360.75 L489.24,358.22 L489.71,355.87 L490.18,353.75 L490.64,351.87 L491.11,350.25 L491.57,348.9 L492.04,347.85 L492.51,347.1 L492.97,346.67 L493.44,346.36 L493.9,346.07 L494.37,345.82 L494.84,345.64 L495.3,345.57 L495.77,345.66 L496.23,345.94 L496.7,346.46 L497.17,347.27 L497.63,348.39 L498.1,349.85 L498.56,351.66 L499.03,353.82 L499.5,356.29 L499.96,359.05 L500.43,362.07 L500.89,365.32 L501.36,368.76 L501.83,372.34 L502.29,376.02 L502.76,379.75 L503.22,383.49 L503.69,387.21 L504.16,390.85 L504.62,394.41 L505.09,397.85 L505.55,401.14 L506.02,404.28 L506.49,407.25 L506.95,410.05 L507.42,412.67 L507.88,415.1 L508.35,417.35 L508.82,419.43 L509.28,421.33 L509.75,423.08 L510.21,424.67 L510.68,426.11 L511.15,427.43 L511.61,428.63 L512.08,429.71 L512.54,430.7 L513.01,431.61 L513.48,432.44 L513.94,433.2 L514.41,433.91 L514.87,434.57 L515.34,435.18 L515.81,435.76 L516.27,436.31 L516.74,436.82 L517.2,437.31 L517.67,437.78 L518.14,438.22 L518.6,438.65 L519.07,439.06 L519.53,439.45 L520,439.83 L520.47,440.19 L520.93,440.53 L521.4,440.86 L521.86,441.17 L522.33,441.47 L522.8,441.76 L523.26,442.03 L523.73,442.29 L524.19,442.54 L524.66,442.78 L525.13,443 L525.59,443.21 L526.06,443.41 L526.52,443.6 L526.99,443.78 L527.46,443.95 L527.92,444.11 L528.39,444.26 L528.85,444.4 L529.32,444.53 L529.79,444.66 L530.25,444.77 L530.72,444.88 L531.18,444.98 L531.65,445.08 L532.12,445.17 L532.58,445.25 L533.05,445.33 L533.51,445.4 L533.98,445.47 L534.45,445.53 L534.91,445.58 L535.38,445.64 L535.84,445.68 L536.31,445.73 L536.78,445.77 L537.24,445.81 L537.71,445.84 L538.17,445.88 L538.64,445.91 L539.11,445.93 L539.57,445.96 L540.04,445.98 L540.5,446 L540.97,446.02 L541.44,446.04 L541.9,446.06 L542.37,446.07 L542.83,446.08 L543.3,446.09 L543.77,446.11 L544.23,446.12 L544.7,446.12 L545.16,446.13 L545.63,446.14 L546.1,446.15 L546.56,446.15 L547.03,446.16 L547.49,446.16 L547.96,446.17" fill="none" stroke="#8A3CF0" stroke-width="1.6" stroke-linejoin="round"/>
<path d="M309.37,438.15 L309.83,438.02 L310.3,437.88 L310.77,437.72 L311.23,437.54 L311.7,437.34 L312.16,437.11 L312.63,436.86 L313.1,436.58 L313.56,436.27 L314.03,435.92 L314.49,435.54 L314.96,435.11 L315.43,434.64 L315.89,434.12 L316.36,433.55 L316.82,432.92 L317.29,432.23 L317.76,431.48 L318.22,430.66 L318.69,429.77 L319.15,428.81 L319.62,427.77 L320.09,426.65 L320.55,425.45 L321.02,424.17 L321.48,422.81 L321.95,421.36 L322.42,419.82 L322.88,418.2 L323.35,416.5 L323.81,414.72 L324.28,412.87 L324.75,410.94 L325.21,408.94 L325.68,406.89 L326.14,404.78 L326.61,402.63 L327.08,400.45 L327.54,398.24 L328.01,396.02 L328.47,393.8 L328.94,391.59 L329.41,389.42 L329.87,387.28 L330.34,385.21 L330.8,383.21 L331.27,381.3 L331.74,379.5 L332.2,377.83 L332.67,376.3 L333.13,374.92 L333.6,373.71 L334.07,372.7 L334.53,371.88 L335,371.29 L335.46,370.94 L335.93,370.86 L336.4,370.98 L336.86,371.25 L337.33,371.68 L337.79,372.26 L338.26,372.98 L338.73,373.85 L339.19,374.86 L339.66,375.99 L340.12,377.25 L340.59,378.63 L341.06,380.11 L341.52,381.69 L341.99,383.36 L342.45,385.11 L342.92,386.93 L343.39,388.8 L343.85,390.72 L344.32,392.68 L344.78,394.67 L345.25,396.67 L345.72,398.68 L346.18,400.69 L346.65,402.69 L347.11,404.67 L347.58,406.62 L348.05,408.54 L348.51,410.43 L348.98,412.26 L349.44,414.05 L349.91,415.78 L350.38,417.45 L350.84,419.06 L351.31,420.6 L351.77,422.08 L352.24,423.5 L352.71,424.84 L353.17,426.12 L353.64,427.32 L354.1,428.46 L354.57,429.54 L355.04,430.55 L355.5,431.5 L355.97,432.38 L356.43,433.21 L356.9,433.98 L357.37,434.7 L357.83,435.37 L358.3,435.99 L358.76,436.56 L359.23,437.09 L359.7,437.58 L360.16,438.04 L360.63,438.46 L361.09,438.84 L361.56,439.2 L362.03,439.53 L362.49,439.84 L362.96,440.12 L363.42,440.38 L363.89,440.62 L364.36,440.85 L364.82,441.06 L365.29,441.26 L365.75,441.44 L366.22,441.61 L366.69,441.77 L367.15,441.92 L367.62,442.06 L368.08,442.2 L368.55,442.33 L369.02,442.45 L369.48,442.57 L369.95,442.68 L370.41,442.79 L370.88,442.89 L371.35,442.99 L371.81,443.08 L372.28,443.17 L372.74,443.26 L373.21,443.35 L373.68,443.43 L374.14,443.51 L374.61,443.58 L375.07,443.65 L375.54,443.72 L376.01,443.79 L376.47,443.85 L376.94,443.91 L377.4,443.96 L377.87,444.01 L378.34,444.06 L378.8,444.1 L379.27,444.14 L379.73,444.17 L380.2,444.19 L380.67,444.21 L381.13,444.22 L381.6,444.22 L382.06,444.22 L382.53,444.2 L383,444.18 L383.46,444.14 L383.93,444.09 L384.39,444.03 L384.86,443.96 L385.33,443.88 L385.79,443.78 L386.26,443.66 L386.72,443.53 L387.19,443.38 L387.66,443.21 L388.12,443.02 L388.59,442.82 L389.05,442.59 L389.52,442.35 L389.99,442.08 L390.45,441.8 L390.92,441.49 L391.38,441.16 L391.85,440.82 L392.32,440.45 L392.78,440.06 L393.25,439.66 L393.71,439.24 L394.18,438.8 L394.65,438.35 L395.11,437.89 L395.58,437.42 L396.04,436.94 L396.51,436.45 L396.98,435.96 L397.44,435.48 L397.91,434.99 L398.37,434.51 L398.84,434.04 L399.31,433.58 L399.77,433.13 L400.24,432.71 L400.7,432.3 L401.17,431.92 L401.64,431.57 L402.1,431.25 L402.57,430.96 L403.03,430.7 L403.5,430.48 L403.97,430.31 L404.43,430.17 L404.9,430.07 L405.36,430.02 L405.83,430.01 L406.3,430.04 L406.76,430.12 L407.23,430.23 L407.69,430.39 L408.16,430.6 L408.63,430.84 L409.09,431.11 L409.56,431.43 L410.02,431.77 L410.49,432.14 L410.96,432.55 L411.42,432.97 L411.89,433.42 L412.35,433.89 L412.82,434.37 L413.29,434.86 L413.75,435.36 L414.22,435.87 L414.68,436.38 L415.15,436.89 L415.62,437.4 L416.08,437.91 L416.55,438.4 L417.01,438.89 L417.48,439.36 L417.95,439.82 L418.41,440.27 L418.88,440.7 L419.34,441.11 L419.81,441.51 L420.28,441.88 L420.74,442.24 L421.21,442.57 L421.67,442.89 L422.14,443.19 L422.61,443.47 L423.07,443.73 L423.54,443.97 L424,444.19 L424.47,444.4 L424.94,444.58 L425.4,444.76 L425.87,444.92 L426.33,445.06 L426.8,445.19 L427.27,445.31 L427.73,445.41 L428.2,445.51 L428.66,445.59 L429.13,445.67 L429.6,445.74 L430.06,445.8 L430.53,445.85 L430.99,445.9 L431.46,445.94 L431.93,445.98 L432.39,446.01 L432.86,446.03 L433.32,446.06 L433.79,446.08 L434.26,446.1 L434.72,446.11 L435.19,446.12 L435.65,446.13 L436.12,446.14 L436.59,446.15 L437.05,446.16 L437.52,446.16 L437.98,446.16 L438.45,446.17 L438.92,446.17 L439.38,446.17 L439.85,446.17 L440.31,446.17 L440.78,446.17 L441.25,446.17 L441.71,446.16 L442.18,446.16 L442.64,446.16 L443.11,446.15 L443.58,446.15 L444.04,446.14 L444.51,446.14 L444.97,446.13 L445.44,446.12 L445.91,446.11 L446.37,446.1 L446.84,446.09 L447.3,446.08 L447.77,446.06 L448.24,446.05 L448.7,446.03 L449.17,446.01 L449.63,445.99 L450.1,445.97 L450.57,445.95 L451.03,445.92 L451.5,445.89 L451.96,445.86 L452.43,445.82 L452.9,445.79 L453.36,445.75 L453.83,445.7 L454.29,445.65 L454.76,445.6 L455.23,445.54 L455.69,445.48 L456.16,445.42 L456.62,445.35 L457.09,445.27 L457.56,445.19 L458.02,445.1 L458.49,445.01 L458.95,444.91 L459.42,444.8 L459.89,444.69 L460.35,444.56 L460.82,444.43 L461.28,444.29 L461.75,444.14 L462.22,443.99 L462.68,443.82 L463.15,443.64 L463.61,443.45 L464.08,443.26 L464.55,443.05 L465.01,442.82 L465.48,442.59 L465.94,442.34 L466.41,442.08 L466.88,441.81 L467.34,441.52 L467.81,441.22 L468.27,440.9 L468.74,440.56 L469.21,440.21 L469.67,439.84 L470.14,439.45 L470.6,439.03 L471.07,438.6 L471.54,438.14 L472,437.66 L472.47,437.14 L472.93,436.6 L473.4,436.02 L473.87,435.41 L474.33,434.76 L474.8,434.06 L475.26,433.32 L475.73,432.53 L476.2,431.69 L476.66,430.78 L477.13,429.81 L477.59,428.78 L478.06,427.67 L478.53,426.47 L478.99,425.2 L479.46,423.84 L479.92,422.38 L480.39,420.82 L480.86,419.17 L481.32,417.41 L481.79,415.54 L482.25,413.57 L482.72,411.49 L483.19,409.31 L483.65,407.03 L484.12,404.65 L484.58,402.19 L485.05,399.65 L485.52,397.04 L485.98,394.37 L486.45,391.67 L486.91,388.94 L487.38,386.21 L487.85,383.5 L488.31,380.83 L488.78,378.22 L489.24,375.7 L489.71,373.3 L490.18,371.03 L490.64,368.93 L491.11,367.01 L491.57,365.31 L492.04,363.84 L492.51,362.64 L492.97,361.7 L493.44,361.07 L493.9,360.74 L494.37,360.72 L494.84,360.77 L495.3,360.91 L495.77,361.13 L496.23,361.48 L496.7,361.95 L497.17,362.57 L497.63,363.35 L498.1,364.29 L498.56,365.4 L499.03,366.69 L499.5,368.16 L499.96,369.82 L500.43,371.64 L500.89,373.64 L501.36,375.79 L501.83,378.09 L502.29,380.53 L502.76,383.07 L503.22,385.71 L503.69,388.43 L504.16,391.19 L504.62,393.98 L505.09,396.77 L505.55,399.55 L506.02,402.28 L506.49,404.95 L506.95,407.54 L507.42,410.04 L507.88,412.43 L508.35,414.69 L508.82,416.83 L509.28,418.84 L509.75,420.71 L510.21,422.44 L510.68,424.04 L511.15,425.52 L511.61,426.87 L512.08,428.11 L512.54,429.25 L513.01,430.28 L513.48,431.23 L513.94,432.1 L514.41,432.9 L514.87,433.64 L515.34,434.32 L515.81,434.96 L516.27,435.55 L516.74,436.11 L517.2,436.63 L517.67,437.13 L518.14,437.6 L518.6,438.05 L519.07,438.48 L519.53,438.89 L520,439.29 L520.47,439.66 L520.93,440.02 L521.4,440.37 L521.86,440.7 L522.33,441.01 L522.8,441.32 L523.26,441.61 L523.73,441.88 L524.19,442.15 L524.66,442.4 L525.13,442.64 L525.59,442.87 L526.06,443.08 L526.52,443.29 L526.99,443.48 L527.46,443.66 L527.92,443.84 L528.39,444 L528.85,444.16 L529.32,444.3 L529.79,444.44 L530.25,444.57 L530.72,444.69 L531.18,444.8 L531.65,444.91 L532.12,445.01 L532.58,445.1 L533.05,445.19 L533.51,445.27 L533.98,445.34 L534.45,445.41 L534.91,445.48 L535.38,445.54 L535.84,445.59 L536.31,445.64 L536.78,445.69 L537.24,445.74 L537.71,445.78 L538.17,445.81 L538.64,445.85 L539.11,445.88 L539.57,445.91 L540.04,445.94 L540.5,445.96 L540.97,445.98 L541.44,446 L541.9,446.02 L542.37,446.04 L542.83,446.06 L543.3,446.07 L543.77,446.08 L544.23,446.1 L544.7,446.11 L545.16,446.12 L545.63,446.12 L546.1,446.13 L546.56,446.14 L547.03,446.15 L547.49,446.15 L547.96,446.16" fill="none" stroke="#1A8C1A" stroke-width="1.6" stroke-linejoin="round"/>
<path d="M309.37,440.34 L309.83,440.23 L310.3,440.12 L310.77,440 L311.23,439.86 L311.7,439.71 L312.16,439.54 L312.63,439.36 L313.1,439.17 L313.56,438.95 L314.03,438.71 L314.49,438.44 L314.96,438.15 L315.43,437.83 L315.89,437.48 L316.36,437.09 L316.82,436.66 L317.29,436.2 L317.76,435.69 L318.22,435.13 L318.69,434.52 L319.15,433.86 L319.62,433.14 L320.09,432.36 L320.55,431.51 L321.02,430.6 L321.48,429.61 L321.95,428.54 L322.42,427.4 L322.88,426.18 L323.35,424.87 L323.81,423.48 L324.28,422 L324.75,420.43 L325.21,418.77 L325.68,417.03 L326.14,415.2 L326.61,413.28 L327.08,411.28 L327.54,409.2 L328.01,407.05 L328.47,404.84 L328.94,402.56 L329.41,400.24 L329.87,397.89 L330.34,395.5 L330.8,393.11 L331.27,390.73 L331.74,388.36 L332.2,386.05 L332.67,383.79 L333.13,381.62 L333.6,379.57 L334.07,377.66 L334.53,375.93 L335,374.4 L335.46,373.13 L335.93,372.18 L336.4,371.64 L336.86,371.65 L337.33,371.84 L337.79,372.18 L338.26,372.66 L338.73,373.29 L339.19,374.06 L339.66,374.97 L340.12,376 L340.59,377.15 L341.06,378.42 L341.52,379.79 L341.99,381.26 L342.45,382.83 L342.92,384.47 L343.39,386.18 L343.85,387.96 L344.32,389.79 L344.78,391.66 L345.25,393.56 L345.72,395.49 L346.18,397.43 L346.65,399.38 L347.11,401.33 L347.58,403.26 L348.05,405.17 L348.51,407.06 L348.98,408.92 L349.44,410.74 L349.91,412.52 L350.38,414.25 L350.84,415.93 L351.31,417.55 L351.77,419.12 L352.24,420.62 L352.71,422.06 L353.17,423.44 L353.64,424.76 L354.1,426.01 L354.57,427.19 L355.04,428.32 L355.5,429.38 L355.97,430.38 L356.43,431.32 L356.9,432.2 L357.37,433.02 L357.83,433.8 L358.3,434.52 L358.76,435.19 L359.23,435.81 L359.7,436.39 L360.16,436.93 L360.63,437.43 L361.09,437.89 L361.56,438.32 L362.03,438.72 L362.49,439.09 L362.96,439.43 L363.42,439.75 L363.89,440.04 L364.36,440.31 L364.82,440.56 L365.29,440.8 L365.75,441.02 L366.22,441.22 L366.69,441.41 L367.15,441.59 L367.62,441.76 L368.08,441.91 L368.55,442.06 L369.02,442.2 L369.48,442.34 L369.95,442.46 L370.41,442.59 L370.88,442.7 L371.35,442.81 L371.81,442.92 L372.28,443.02 L372.74,443.12 L373.21,443.21 L373.68,443.3 L374.14,443.39 L374.61,443.48 L375.07,443.56 L375.54,443.64 L376.01,443.72 L376.47,443.79 L376.94,443.86 L377.4,443.93 L377.87,443.99 L378.34,444.05 L378.8,444.11 L379.27,444.17 L379.73,444.22 L380.2,444.26 L380.67,444.3 L381.13,444.33 L381.6,444.35 L382.06,444.37 L382.53,444.38 L383,444.37 L383.46,444.36 L383.93,444.33 L384.39,444.28 L384.86,444.22 L385.33,444.14 L385.79,444.03 L386.26,443.9 L386.72,443.75 L387.19,443.56 L387.66,443.34 L388.12,443.08 L388.59,442.79 L389.05,442.44 L389.52,442.06 L389.99,441.62 L390.45,441.13 L390.92,440.58 L391.38,439.98 L391.85,439.31 L392.32,438.58 L392.78,437.79 L393.25,436.92 L393.71,436 L394.18,435.01 L394.65,433.95 L395.11,432.83 L395.58,431.65 L396.04,430.42 L396.51,429.14 L396.98,427.81 L397.44,426.45 L397.91,425.06 L398.37,423.65 L398.84,422.23 L399.31,420.82 L399.77,419.41 L400.24,418.04 L400.7,416.69 L401.17,415.4 L401.64,414.17 L402.1,413.02 L402.57,411.95 L403.03,410.98 L403.5,410.11 L403.97,409.36 L404.43,408.74 L404.9,408.25 L405.36,407.9 L405.83,407.69 L406.3,407.62 L406.76,407.69 L407.23,407.87 L407.69,408.17 L408.16,408.58 L408.63,409.1 L409.09,409.73 L409.56,410.45 L410.02,411.27 L410.49,412.17 L410.96,413.15 L411.42,414.2 L411.89,415.31 L412.35,416.48 L412.82,417.69 L413.29,418.93 L413.75,420.2 L414.22,421.48 L414.68,422.77 L415.15,424.07 L415.62,425.35 L416.08,426.63 L416.55,427.88 L417.01,429.1 L417.48,430.29 L417.95,431.44 L418.41,432.55 L418.88,433.62 L419.34,434.64 L419.81,435.61 L420.28,436.52 L420.74,437.39 L421.21,438.2 L421.67,438.96 L422.14,439.67 L422.61,440.32 L423.07,440.93 L423.54,441.49 L424,442 L424.47,442.47 L424.94,442.89 L425.4,443.28 L425.87,443.63 L426.33,443.94 L426.8,444.22 L427.27,444.48 L427.73,444.7 L428.2,444.9 L428.66,445.08 L429.13,445.23 L429.6,445.37 L430.06,445.49 L430.53,445.59 L430.99,445.68 L431.46,445.76 L431.93,445.83 L432.39,445.89 L432.86,445.94 L433.32,445.98 L433.79,446.01 L434.26,446.05 L434.72,446.07 L435.19,446.09 L435.65,446.11 L436.12,446.13 L436.59,446.14 L437.05,446.15 L437.52,446.16 L437.98,446.17 L438.45,446.17 L438.92,446.18 L439.38,446.18 L439.85,446.19 L440.31,446.19 L440.78,446.19 L441.25,446.19 L441.71,446.2 L442.18,446.2 L442.64,446.2 L443.11,446.2 L443.58,446.2 L444.04,446.2 L444.51,446.2 L444.97,446.2 L445.44,446.2 L445.91,446.2 L446.37,446.2 L446.84,446.2 L447.3,446.2 L447.77,446.2 L448.24,446.2 L448.7,446.2 L449.17,446.2 L449.63,446.2 L450.1,446.2 L450.57,446.2 L451.03,446.2 L451.5,446.2 L451.96,446.2 L452.43,446.2 L452.9,446.2 L453.36,446.2 L453.83,446.2 L454.29,446.2 L454.76,446.2 L455.23,446.2 L455.69,446.2 L456.16,446.2 L456.62,446.2 L457.09,446.2 L457.56,446.2 L458.02,446.2 L458.49,446.2 L458.95,446.2 L459.42,446.2 L459.89,446.2 L460.35,446.2 L460.82,446.2 L461.28,446.2 L461.75,446.2 L462.22,446.2 L462.68,446.2 L463.15,446.2 L463.61,446.2 L464.08,446.2 L464.55,446.2 L465.01,446.2 L465.48,446.2 L465.94,446.2 L466.41,446.2 L466.88,446.2 L467.34,446.2 L467.81,446.2 L468.27,446.2 L468.74,446.2 L469.21,446.2 L469.67,446.2 L470.14,446.2 L470.6,446.2 L471.07,446.2 L471.54,446.2 L472,446.2 L472.47,446.2 L472.93,446.2 L473.4,446.2 L473.87,446.2 L474.33,446.2 L474.8,446.2 L475.26,446.2 L475.73,446.2 L476.2,446.2 L476.66,446.2 L477.13,446.2 L477.59,446.2 L478.06,446.2 L478.53,446.2 L478.99,446.2 L479.46,446.2 L479.92,446.2 L480.39,446.2 L480.86,446.2 L481.32,446.2 L481.79,446.2 L482.25,446.2 L482.72,446.2 L483.19,446.2 L483.65,446.2 L484.12,446.2 L484.58,446.2 L485.05,446.2 L485.52,446.2 L485.98,446.2 L486.45,446.2 L486.91,446.2 L487.38,446.2 L487.85,446.2 L488.31,446.2 L488.78,446.2 L489.24,446.2 L489.71,446.2 L490.18,446.2 L490.64,446.2 L491.11,446.2 L491.57,446.2 L492.04,446.2 L492.51,446.2 L492.97,446.2 L493.44,446.2 L493.9,446.2 L494.37,446.2 L494.84,446.2 L495.3,446.2 L495.77,446.2 L496.23,446.2 L496.7,446.2 L497.17,446.2 L497.63,446.2 L498.1,446.2 L498.56,446.2 L499.03,446.2 L499.5,446.2 L499.96,446.2 L500.43,446.2 L500.89,446.2 L501.36,446.2 L501.83,446.2 L502.29,446.2 L502.76,446.2 L503.22,446.2 L503.69,446.2 L504.16,446.2 L504.62,446.2 L505.09,446.2 L505.55,446.2 L506.02,446.2 L506.49,446.2 L506.95,446.2 L507.42,446.2 L507.88,446.2 L508.35,446.2 L508.82,446.2 L509.28,446.2 L509.75,446.2 L510.21,446.2 L510.68,446.2 L511.15,446.2 L511.61,446.2 L512.08,446.2 L512.54,446.2 L513.01,446.2 L513.48,446.2 L513.94,446.2 L514.41,446.2 L514.87,446.2 L515.34,446.2 L515.81,446.2 L516.27,446.2 L516.74,446.2 L517.2,446.2 L517.67,446.2 L518.14,446.2 L518.6,446.2 L519.07,446.2 L519.53,446.2 L520,446.2 L520.47,446.2 L520.93,446.2 L521.4,446.2 L521.86,446.2 L522.33,446.2 L522.8,446.2 L523.26,446.2 L523.73,446.2 L524.19,446.2 L524.66,446.2 L525.13,446.2 L525.59,446.2 L526.06,446.2 L526.52,446.2 L526.99,446.2 L527.46,446.2 L527.92,446.2 L528.39,446.2 L528.85,446.2 L529.32,446.2 L529.79,446.2 L530.25,446.2 L530.72,446.2 L531.18,446.2 L531.65,446.2 L532.12,446.2 L532.58,446.2 L533.05,446.2 L533.51,446.2 L533.98,446.2 L534.45,446.2 L534.91,446.2 L535.38,446.2 L535.84,446.2 L536.31,446.2 L536.78,446.2 L537.24,446.2 L537.71,446.2 L538.17,446.2 L538.64,446.2 L539.11,446.2 L539.57,446.2 L540.04,446.2 L540.5,446.2 L540.97,446.2 L541.44,446.2 L541.9,446.2 L542.37,446.2 L542.83,446.2 L543.3,446.2 L543.77,446.2 L544.23,446.2 L544.7,446.2 L545.16,446.2 L545.63,446.2 L546.1,446.2 L546.56,446.2 L547.03,446.2 L547.49,446.2 L547.96,446.2" fill="none" stroke="#1414FF" stroke-width="1.6" stroke-linejoin="round"/>
<path d="M309.37,436.46 L309.83,436 L310.3,435.51 L310.77,435.01 L311.23,434.5 L311.7,433.96 L312.16,433.41 L312.63,432.83 L313.1,432.23 L313.56,431.6 L314.03,430.94 L314.49,430.26 L314.96,429.54 L315.43,428.78 L315.89,427.99 L316.36,427.15 L316.82,426.26 L317.29,425.32 L317.76,424.33 L318.22,423.27 L318.69,422.15 L319.15,420.97 L319.62,419.7 L320.09,418.36 L320.55,416.94 L321.02,415.43 L321.48,413.84 L321.95,412.16 L322.42,410.4 L322.88,408.55 L323.35,406.62 L323.81,404.61 L324.28,402.53 L324.75,400.39 L325.21,398.2 L325.68,395.97 L326.14,393.72 L326.61,391.46 L327.08,389.22 L327.54,387.01 L328.01,384.86 L328.47,382.79 L328.94,380.84 L329.41,379.01 L329.87,377.35 L330.34,375.88 L330.8,374.62 L331.27,373.61 L331.74,372.87 L332.2,372.44 L332.67,372.37 L333.13,372.58 L333.6,373.02 L334.07,373.65 L334.53,374.47 L335,375.47 L335.46,376.63 L335.93,377.95 L336.4,379.4 L336.86,380.97 L337.33,382.66 L337.79,384.45 L338.26,386.31 L338.73,388.25 L339.19,390.25 L339.66,392.28 L340.12,394.35 L340.59,396.44 L341.06,398.53 L341.52,400.62 L341.99,402.69 L342.45,404.74 L342.92,406.76 L343.39,408.73 L343.85,410.66 L344.32,412.53 L344.78,414.35 L345.25,416.1 L345.72,417.79 L346.18,419.41 L346.65,420.95 L347.11,422.43 L347.58,423.83 L348.05,425.16 L348.51,426.42 L348.98,427.6 L349.44,428.72 L349.91,429.77 L350.38,430.76 L350.84,431.68 L351.31,432.54 L351.77,433.35 L352.24,434.1 L352.71,434.8 L353.17,435.45 L353.64,436.05 L354.1,436.61 L354.57,437.14 L355.04,437.62 L355.5,438.07 L355.97,438.49 L356.43,438.89 L356.9,439.25 L357.37,439.59 L357.83,439.91 L358.3,440.2 L358.76,440.48 L359.23,440.74 L359.7,440.99 L360.16,441.22 L360.63,441.43 L361.09,441.64 L361.56,441.84 L362.03,442.02 L362.49,442.2 L362.96,442.36 L363.42,442.52 L363.89,442.68 L364.36,442.82 L364.82,442.96 L365.29,443.1 L365.75,443.23 L366.22,443.35 L366.69,443.47 L367.15,443.59 L367.62,443.7 L368.08,443.81 L368.55,443.91 L369.02,444.01 L369.48,444.11 L369.95,444.2 L370.41,444.29 L370.88,444.37 L371.35,444.46 L371.81,444.54 L372.28,444.61 L372.74,444.69 L373.21,444.76 L373.68,444.83 L374.14,444.9 L374.61,444.96 L375.07,445.02 L375.54,445.08 L376.01,445.14 L376.47,445.19 L376.94,445.24 L377.4,445.29 L377.87,445.34 L378.34,445.39 L378.8,445.43 L379.27,445.47 L379.73,445.51 L380.2,445.55 L380.67,445.58 L381.13,445.62 L381.6,445.65 L382.06,445.68 L382.53,445.71 L383,445.74 L383.46,445.77 L383.93,445.79 L384.39,445.82 L384.86,445.84 L385.33,445.86 L385.79,445.88 L386.26,445.9 L386.72,445.92 L387.19,445.94 L387.66,445.96 L388.12,445.97 L388.59,445.99 L389.05,446 L389.52,446.01 L389.99,446.03 L390.45,446.04 L390.92,446.05 L391.38,446.06 L391.85,446.07 L392.32,446.08 L392.78,446.09 L393.25,446.09 L393.71,446.1 L394.18,446.11 L394.65,446.12 L395.11,446.12 L395.58,446.13 L396.04,446.13 L396.51,446.14 L396.98,446.14 L397.44,446.15 L397.91,446.15 L398.37,446.15 L398.84,446.16 L399.31,446.16 L399.77,446.16 L400.24,446.17 L400.7,446.17 L401.17,446.17 L401.64,446.17 L402.1,446.18 L402.57,446.18 L403.03,446.18 L403.5,446.18 L403.97,446.18 L404.43,446.19 L404.9,446.19 L405.36,446.19 L405.83,446.19 L406.3,446.19 L406.76,446.19 L407.23,446.19 L407.69,446.19 L408.16,446.19 L408.63,446.19 L409.09,446.19 L409.56,446.2 L410.02,446.2 L410.49,446.2 L410.96,446.2 L411.42,446.2 L411.89,446.2 L412.35,446.2 L412.82,446.2 L413.29,446.2 L413.75,446.2 L414.22,446.2 L414.68,446.2 L415.15,446.2 L415.62,446.2 L416.08,446.2 L416.55,446.2 L417.01,446.2 L417.48,446.2 L417.95,446.2 L418.41,446.2 L418.88,446.2 L419.34,446.2 L419.81,446.2 L420.28,446.2 L420.74,446.2 L421.21,446.2 L421.67,446.2 L422.14,446.2 L422.61,446.2 L423.07,446.2 L423.54,446.2 L424,446.2 L424.47,446.2 L424.94,446.2 L425.4,446.2 L425.87,446.2 L426.33,446.2 L426.8,446.2 L427.27,446.2 L427.73,446.2 L428.2,446.2 L428.66,446.2 L429.13,446.2 L429.6,446.2 L430.06,446.2 L430.53,446.2 L430.99,446.2 L431.46,446.2 L431.93,446.2 L432.39,446.2 L432.86,446.2 L433.32,446.2 L433.79,446.2 L434.26,446.2 L434.72,446.2 L435.19,446.2 L435.65,446.2 L436.12,446.2 L436.59,446.2 L437.05,446.2 L437.52,446.2 L437.98,446.2 L438.45,446.19 L438.92,446.19 L439.38,446.19 L439.85,446.19 L440.31,446.19 L440.78,446.19 L441.25,446.18 L441.71,446.18 L442.18,446.18 L442.64,446.17 L443.11,446.17 L443.58,446.17 L444.04,446.16 L444.51,446.15 L444.97,446.15 L445.44,446.14 L445.91,446.13 L446.37,446.12 L446.84,446.11 L447.3,446.09 L447.77,446.08 L448.24,446.06 L448.7,446.04 L449.17,446.02 L449.63,446 L450.1,445.97 L450.57,445.94 L451.03,445.9 L451.5,445.87 L451.96,445.82 L452.43,445.78 L452.9,445.72 L453.36,445.66 L453.83,445.6 L454.29,445.53 L454.76,445.45 L455.23,445.36 L455.69,445.26 L456.16,445.15 L456.62,445.04 L457.09,444.91 L457.56,444.77 L458.02,444.61 L458.49,444.44 L458.95,444.26 L459.42,444.05 L459.89,443.84 L460.35,443.6 L460.82,443.34 L461.28,443.06 L461.75,442.75 L462.22,442.43 L462.68,442.07 L463.15,441.69 L463.61,441.29 L464.08,440.85 L464.55,440.38 L465.01,439.88 L465.48,439.34 L465.94,438.77 L466.41,438.16 L466.88,437.51 L467.34,436.82 L467.81,436.09 L468.27,435.32 L468.74,434.5 L469.21,433.64 L469.67,432.74 L470.14,431.79 L470.6,430.79 L471.07,429.74 L471.54,428.65 L472,427.51 L472.47,426.32 L472.93,425.08 L473.4,423.8 L473.87,422.47 L474.33,421.09 L474.8,419.67 L475.26,418.2 L475.73,416.7 L476.2,415.15 L476.66,413.56 L477.13,411.94 L477.59,410.28 L478.06,408.59 L478.53,406.86 L478.99,405.1 L479.46,403.28 L479.92,401.4 L480.39,399.43 L480.86,397.34 L481.32,395.08 L481.79,392.61 L482.25,389.85 L482.72,386.74 L483.19,383.22 L483.65,379.22 L484.12,374.73 L484.58,369.73 L485.05,364.25 L485.52,358.34 L485.98,352.11 L486.45,345.67 L486.91,339.16 L487.38,332.74 L487.85,326.54 L488.31,320.69 L488.78,315.32 L489.24,310.5 L489.71,306.29 L490.18,302.71 L490.64,299.77 L491.11,297.42 L491.57,295.63 L492.04,294.33 L492.51,293.44 L492.97,292.9 L493.44,292.62 L493.9,292.53 L494.37,292.55 L494.84,292.67 L495.3,292.95 L495.77,293.42 L496.23,294.09 L496.7,294.99 L497.17,296.14 L497.63,297.55 L498.1,299.22 L498.56,301.17 L499.03,303.39 L499.5,305.89 L499.96,308.65 L500.43,311.68 L500.89,314.95 L501.36,318.46 L501.83,322.19 L502.29,326.12 L502.76,330.22 L503.22,334.48 L503.69,338.87 L504.16,343.35 L504.62,347.91 L505.09,352.51 L505.55,357.12 L506.02,361.73 L506.49,366.29 L506.95,370.79 L507.42,375.21 L507.88,379.51 L508.35,383.69 L508.82,387.71 L509.28,391.58 L509.75,395.27 L510.21,398.79 L510.68,402.11 L511.15,405.23 L511.61,408.17 L512.08,410.9 L512.54,413.45 L513.01,415.81 L513.48,417.98 L513.94,419.99 L514.41,421.82 L514.87,423.5 L515.34,425.04 L515.81,426.44 L516.27,427.72 L516.74,428.88 L517.2,429.94 L517.67,430.9 L518.14,431.78 L518.6,432.59 L519.07,433.32 L519.53,434 L520,434.62 L520.47,435.2 L520.93,435.74 L521.4,436.24 L521.86,436.71 L522.33,437.15 L522.8,437.57 L523.26,437.96 L523.73,438.34 L524.19,438.69 L524.66,439.04 L525.13,439.36 L525.59,439.68 L526.06,439.98 L526.52,440.27 L526.99,440.54 L527.46,440.81 L527.92,441.07 L528.39,441.32 L528.85,441.56 L529.32,441.79 L529.79,442.01 L530.25,442.22 L530.72,442.42 L531.18,442.62 L531.65,442.81 L532.12,442.99 L532.58,443.16 L533.05,443.32 L533.51,443.48 L533.98,443.63 L534.45,443.78 L534.91,443.92 L535.38,444.05 L535.84,444.17 L536.31,444.29 L536.78,444.4 L537.24,444.51 L537.71,444.61 L538.17,444.71 L538.64,444.8 L539.11,444.89 L539.57,444.97 L540.04,445.05 L540.5,445.13 L540.97,445.2 L541.44,445.26 L541.9,445.32 L542.37,445.38 L542.83,445.44 L543.3,445.49 L543.77,445.54 L544.23,445.58 L544.7,445.63 L545.16,445.67 L545.63,445.71 L546.1,445.74 L546.56,445.78 L547.03,445.81 L547.49,445.84 L547.96,445.86" fill="none" stroke="#FF00FF" stroke-width="1.6" stroke-linejoin="round"/>
</g>
<text x="409.3" y="301.8" font-family="'Liberation Sans', sans-serif" font-size="12" fill="#FF00FF" stroke="#FF00FF" stroke-width="0.2">QW-H/R+RN</text>
<line x1="481.5" y1="299.2" x2="485.25" y2="300.6" stroke="#FF00FF" stroke-width="1"/>
<polygon points="489,302 484.48,302.66 486.02,298.54" fill="#FF00FF"/>
<text x="388.1" y="325.2" font-family="'Liberation Sans', sans-serif" font-size="12" fill="#1C1C7A" stroke="#1C1C7A" stroke-width="0.2">QW-H/G+R+RN</text>
<line x1="476" y1="325.8" x2="484.79" y2="329.31" stroke="#1C1C7A" stroke-width="1"/>
<polygon points="488.5,330.8 483.97,331.36 485.6,327.27" fill="#1C1C7A"/>
<text x="387.4" y="347.5" font-family="'Liberation Sans', sans-serif" font-size="12" fill="#8A3CF0" stroke="#8A3CF0" stroke-width="0.2">QW-H/G+R+GN</text>
<line x1="479.3" y1="345.3" x2="484.3" y2="348.74" stroke="#8A3CF0" stroke-width="1"/>
<polygon points="487.6,351 483.06,350.55 485.55,346.92" fill="#8A3CF0"/>
<text x="425.6" y="363.2" font-family="'Liberation Sans', sans-serif" font-size="12" fill="#FF1A1A" stroke="#FF1A1A" stroke-width="0.2">QW-H/R</text>
<line x1="473.8" y1="362" x2="490.08" y2="358.61" stroke="#FF1A1A" stroke-width="1"/>
<polygon points="494,357.8 490.53,360.77 489.64,356.46" fill="#FF1A1A"/>
<text x="408.8" y="378.4" font-family="'Liberation Sans', sans-serif" font-size="12" fill="#1A8C1A" stroke="#1A8C1A" stroke-width="0.2">QW-H/G+R</text>
<line x1="480.4" y1="371.5" x2="484.65" y2="372.71" stroke="#1A8C1A" stroke-width="1"/>
<polygon points="488.5,373.8 484.05,374.82 485.25,370.59" fill="#1A8C1A"/>
<text x="403.8" y="392.8" font-family="'Liberation Sans', sans-serif" font-size="12" fill="#1414FF" stroke="#1414FF" stroke-width="0.2">QW-H/G+GN</text>
<line x1="426.7" y1="394.9" x2="415.85" y2="410.89" stroke="#1414FF" stroke-width="1"/>
<polygon points="413.6,414.2 414.03,409.65 417.67,412.13" fill="#1414FF"/>
<text x="365.6" y="407.9" font-family="'Liberation Sans', sans-serif" font-size="12" fill="#111" stroke="#111" stroke-width="0.2">QW-</text>
<text x="365.6" y="421.5" font-family="'Liberation Sans', sans-serif" font-size="12" fill="#111" stroke="#111" stroke-width="0.2">H/G</text>
<line x1="391.1" y1="423.2" x2="398.15" y2="427.81" stroke="#111" stroke-width="1"/>
<polygon points="401.5,430 396.95,429.65 399.36,425.97" fill="#111"/>
</svg>
</body></html>
